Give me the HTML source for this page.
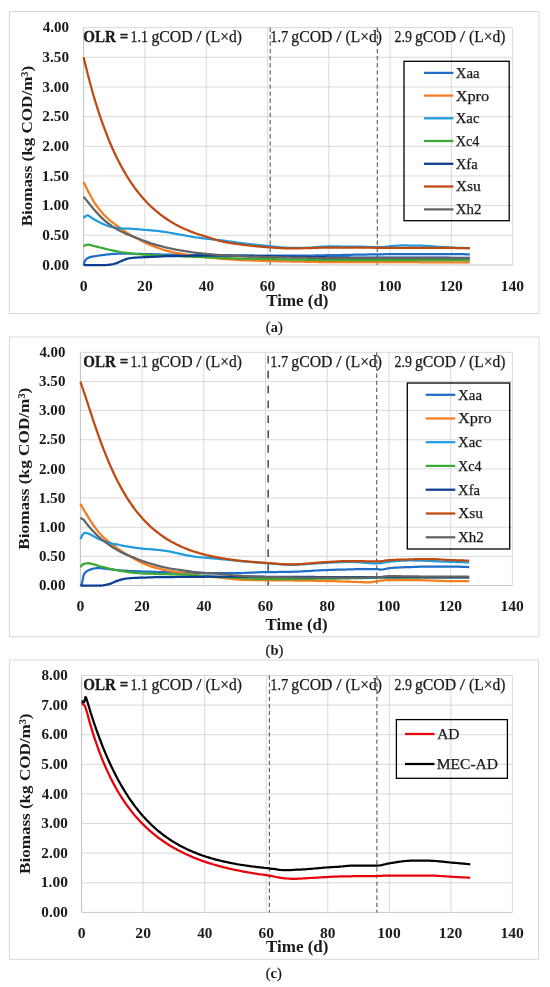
<!DOCTYPE html>
<html><head><meta charset="utf-8"><title>Biomass</title>
<style>
html,body{margin:0;padding:0;background:#fff;}
svg{display:block;font-family:"Liberation Serif", "DejaVu Serif", serif;fill:#1a1a1a;}
svg text{fill:#1a1a1a;stroke:#1a1a1a;stroke-width:0.25px;}
svg .b{font-weight:bold;stroke-width:0;}
</style></head>
<body>
<svg width="550" height="987" viewBox="0 0 550 987">
<rect width="550" height="987" fill="#fff"/>
<g>
<rect x="9.5" y="11.5" width="529.5" height="302.0" fill="#fff" stroke="#d9d9d9" stroke-width="1"/>
<line x1="83.6" y1="27.60" x2="512.7" y2="27.60" stroke="#d9d9d9" stroke-width="1"/>
<line x1="83.6" y1="57.28" x2="512.7" y2="57.28" stroke="#d9d9d9" stroke-width="1"/>
<line x1="83.6" y1="86.95" x2="512.7" y2="86.95" stroke="#d9d9d9" stroke-width="1"/>
<line x1="83.6" y1="116.62" x2="512.7" y2="116.62" stroke="#d9d9d9" stroke-width="1"/>
<line x1="83.6" y1="146.30" x2="512.7" y2="146.30" stroke="#d9d9d9" stroke-width="1"/>
<line x1="83.6" y1="175.97" x2="512.7" y2="175.97" stroke="#d9d9d9" stroke-width="1"/>
<line x1="83.6" y1="205.65" x2="512.7" y2="205.65" stroke="#d9d9d9" stroke-width="1"/>
<line x1="83.6" y1="235.32" x2="512.7" y2="235.32" stroke="#d9d9d9" stroke-width="1"/>
<line x1="83.6" y1="265.00" x2="512.7" y2="265.00" stroke="#c6c6c6" stroke-width="1"/>
<line x1="83.60" y1="27.6" x2="83.60" y2="265.0" stroke="#bfbfbf" stroke-width="1"/>
<line x1="144.90" y1="27.6" x2="144.90" y2="265.0" stroke="#d9d9d9" stroke-width="1"/>
<line x1="206.20" y1="27.6" x2="206.20" y2="265.0" stroke="#d9d9d9" stroke-width="1"/>
<line x1="267.50" y1="27.6" x2="267.50" y2="265.0" stroke="#d9d9d9" stroke-width="1"/>
<line x1="328.80" y1="27.6" x2="328.80" y2="265.0" stroke="#d9d9d9" stroke-width="1"/>
<line x1="390.10" y1="27.6" x2="390.10" y2="265.0" stroke="#d9d9d9" stroke-width="1"/>
<line x1="451.40" y1="27.6" x2="451.40" y2="265.0" stroke="#d9d9d9" stroke-width="1"/>
<line x1="512.70" y1="27.6" x2="512.70" y2="265.0" stroke="#d9d9d9" stroke-width="1"/>
<text x="42.77" y="32.30" font-size="14.4" class="b" textLength="26.33" lengthAdjust="spacingAndGlyphs">4.00</text>
<text x="42.39" y="61.98" font-size="14.4" class="b" textLength="26.72" lengthAdjust="spacingAndGlyphs">3.50</text>
<text x="42.39" y="91.65" font-size="14.4" class="b" textLength="26.72" lengthAdjust="spacingAndGlyphs">3.00</text>
<text x="42.39" y="121.33" font-size="14.4" class="b" textLength="26.72" lengthAdjust="spacingAndGlyphs">2.50</text>
<text x="42.39" y="151.00" font-size="14.4" class="b" textLength="26.72" lengthAdjust="spacingAndGlyphs">2.00</text>
<text x="41.75" y="180.67" font-size="14.4" class="b" textLength="27.38" lengthAdjust="spacingAndGlyphs">1.50</text>
<text x="41.75" y="210.35" font-size="14.4" class="b" textLength="27.38" lengthAdjust="spacingAndGlyphs">1.00</text>
<text x="42.39" y="240.02" font-size="14.4" class="b" textLength="26.72" lengthAdjust="spacingAndGlyphs">0.50</text>
<text x="42.39" y="269.70" font-size="14.4" class="b" textLength="26.72" lengthAdjust="spacingAndGlyphs">0.00</text>
<text x="79.67" y="291.20" font-size="14.4" class="b" textLength="7.86" lengthAdjust="spacingAndGlyphs">0</text>
<text x="137.13" y="291.20" font-size="14.4" class="b" textLength="15.54" lengthAdjust="spacingAndGlyphs">20</text>
<text x="198.82" y="291.20" font-size="14.4" class="b" textLength="15.13" lengthAdjust="spacingAndGlyphs">40</text>
<text x="259.81" y="291.20" font-size="14.4" class="b" textLength="15.46" lengthAdjust="spacingAndGlyphs">60</text>
<text x="321.11" y="291.20" font-size="14.4" class="b" textLength="15.46" lengthAdjust="spacingAndGlyphs">80</text>
<text x="378.10" y="291.20" font-size="14.4" class="b" textLength="23.37" lengthAdjust="spacingAndGlyphs">100</text>
<text x="439.40" y="291.20" font-size="14.4" class="b" textLength="23.37" lengthAdjust="spacingAndGlyphs">120</text>
<text x="500.70" y="291.20" font-size="14.4" class="b" textLength="23.37" lengthAdjust="spacingAndGlyphs">140</text>
<text x="266.35" y="306.20" font-size="16.5" class="b" textLength="62.15" lengthAdjust="spacingAndGlyphs">Time (d)</text>
<text x="-80.01" y="0.00" font-size="15.5" class="b" textLength="160.46" lengthAdjust="spacingAndGlyphs" transform="translate(31.5,146.30) rotate(-90)">Biomass (kg COD/m³)</text>
<line x1="270.20" y1="27.6" x2="270.20" y2="265.0" stroke="#5f5f5f" stroke-width="1.15" stroke-dasharray="4.3 2.8"/>
<line x1="377.30" y1="27.6" x2="377.30" y2="265.0" stroke="#5f5f5f" stroke-width="1.15" stroke-dasharray="4.3 2.8"/>
<text x="83.35" y="42.20" font-size="16" class="b" textLength="44.91" lengthAdjust="spacingAndGlyphs" style="stroke-width:0.3px">OLR =</text>
<text x="130.44" y="42.20" font-size="16" textLength="17.50" lengthAdjust="spacingAndGlyphs">1.1</text>
<text x="151.39" y="42.20" font-size="16" textLength="41.16" lengthAdjust="spacingAndGlyphs">gCOD</text>
<text x="196.30" y="42.20" font-size="16" textLength="5.35" lengthAdjust="spacingAndGlyphs">/</text>
<text x="205.60" y="42.20" font-size="16" textLength="36.33" lengthAdjust="spacingAndGlyphs">(L×d)</text>
<text x="270.31" y="42.20" font-size="16" textLength="17.92" lengthAdjust="spacingAndGlyphs">1.7</text>
<text x="291.29" y="42.20" font-size="16" textLength="41.16" lengthAdjust="spacingAndGlyphs">gCOD</text>
<text x="336.20" y="42.20" font-size="16" textLength="5.35" lengthAdjust="spacingAndGlyphs">/</text>
<text x="345.50" y="42.20" font-size="16" textLength="36.33" lengthAdjust="spacingAndGlyphs">(L×d)</text>
<text x="394.57" y="42.20" font-size="16" textLength="17.38" lengthAdjust="spacingAndGlyphs">2.9</text>
<text x="414.89" y="42.20" font-size="16" textLength="41.16" lengthAdjust="spacingAndGlyphs">gCOD</text>
<text x="459.80" y="42.20" font-size="16" textLength="5.35" lengthAdjust="spacingAndGlyphs">/</text>
<text x="469.10" y="42.20" font-size="16" textLength="36.33" lengthAdjust="spacingAndGlyphs">(L×d)</text>
<path d="M83.6,265.0 L84.5,262.0 L85.1,260.8 L86.2,259.1 L86.6,258.8 L88.1,257.9 L88.1,257.9 L89.6,257.4 L91.1,256.9 L92.5,256.6 L94.0,256.3 L95.5,256.0 L95.7,256.0 L97.0,255.8 L98.5,255.5 L100.0,255.4 L101.5,255.2 L102.1,255.1 L103.0,255.0 L104.5,254.8 L106.0,254.6 L107.5,254.4 L108.4,254.3 L108.9,254.3 L110.4,254.1 L111.9,254.0 L113.4,253.9 L114.9,253.8 L114.9,253.8 L116.4,253.7 L117.9,253.7 L119.4,253.7 L120.9,253.7 L121.3,253.7 L122.4,253.7 L123.9,253.7 L125.4,253.7 L126.8,253.7 L128.3,253.7 L129.8,253.7 L131.3,253.7 L132.6,253.7 L132.8,253.7 L134.3,253.7 L135.8,253.8 L137.3,253.8 L138.8,253.8 L140.3,253.9 L141.8,253.9 L143.2,254.0 L144.7,254.0 L144.9,254.0 L146.2,254.1 L147.7,254.1 L149.2,254.1 L150.7,254.2 L152.2,254.2 L153.7,254.3 L155.2,254.3 L156.7,254.3 L158.2,254.4 L159.6,254.4 L161.1,254.5 L162.6,254.5 L164.1,254.5 L165.6,254.6 L167.1,254.6 L168.6,254.6 L170.1,254.7 L171.6,254.7 L173.1,254.7 L174.6,254.8 L175.6,254.8 L176.0,254.8 L177.5,254.8 L179.0,254.9 L180.5,254.9 L182.0,254.9 L183.5,254.9 L185.0,255.0 L186.5,255.0 L188.0,255.0 L189.5,255.0 L191.0,255.0 L192.4,255.1 L193.9,255.1 L195.4,255.1 L196.9,255.1 L198.4,255.1 L199.9,255.2 L201.4,255.2 L202.9,255.2 L204.4,255.2 L205.9,255.2 L206.2,255.2 L207.4,255.2 L208.9,255.2 L210.3,255.2 L211.8,255.2 L213.3,255.3 L214.8,255.3 L216.3,255.3 L217.8,255.3 L219.3,255.3 L220.8,255.3 L222.3,255.3 L223.8,255.3 L225.3,255.3 L226.7,255.3 L228.2,255.3 L229.7,255.3 L231.2,255.4 L232.7,255.4 L234.2,255.4 L235.7,255.4 L237.2,255.4 L238.7,255.4 L240.2,255.4 L241.7,255.4 L243.1,255.4 L244.6,255.4 L246.1,255.4 L247.6,255.4 L249.1,255.4 L250.6,255.4 L252.1,255.4 L253.6,255.4 L255.1,255.5 L256.6,255.5 L258.1,255.5 L259.5,255.5 L261.0,255.5 L262.5,255.5 L264.0,255.5 L265.5,255.5 L267.0,255.5 L267.5,255.5 L268.5,255.5 L270.0,255.5 L271.5,255.5 L273.0,255.5 L274.5,255.5 L275.9,255.5 L277.4,255.6 L278.9,255.6 L280.4,255.6 L281.9,255.6 L283.4,255.6 L284.9,255.6 L286.4,255.6 L287.9,255.6 L289.4,255.6 L290.9,255.6 L292.4,255.6 L293.8,255.6 L295.3,255.6 L296.8,255.6 L298.1,255.6 L298.3,255.6 L299.8,255.6 L301.3,255.6 L302.8,255.6 L304.3,255.6 L305.8,255.6 L307.3,255.6 L308.8,255.5 L310.2,255.5 L311.7,255.5 L313.2,255.5 L314.7,255.5 L316.2,255.4 L317.7,255.4 L319.2,255.4 L320.7,255.3 L322.2,255.3 L323.7,255.3 L325.2,255.3 L326.6,255.2 L328.1,255.2 L328.8,255.2 L329.6,255.2 L331.1,255.2 L332.6,255.1 L334.1,255.1 L335.6,255.1 L337.1,255.1 L338.6,255.0 L340.1,255.0 L341.6,255.0 L343.0,254.9 L344.5,254.9 L346.0,254.9 L347.5,254.9 L349.0,254.8 L350.5,254.8 L352.0,254.8 L353.5,254.7 L355.0,254.7 L356.5,254.7 L358.0,254.6 L359.5,254.6 L360.9,254.6 L362.4,254.5 L363.9,254.5 L365.4,254.5 L366.9,254.5 L368.4,254.4 L369.9,254.4 L371.4,254.4 L372.9,254.4 L374.4,254.4 L375.9,254.3 L377.3,254.3 L377.8,254.3 L378.8,254.3 L380.3,254.3 L381.8,254.3 L383.3,254.3 L384.8,254.2 L386.3,254.2 L387.8,254.2 L389.3,254.2 L390.8,254.2 L392.3,254.2 L393.7,254.2 L395.2,254.1 L396.7,254.1 L398.2,254.1 L399.7,254.1 L401.2,254.1 L402.7,254.1 L404.2,254.1 L405.7,254.1 L407.2,254.1 L408.7,254.1 L410.1,254.0 L411.6,254.0 L413.1,254.0 L414.6,254.0 L416.1,254.0 L417.6,254.0 L419.1,254.0 L420.6,254.0 L420.8,254.0 L422.1,254.0 L423.6,254.0 L425.1,254.0 L426.5,254.0 L428.0,254.0 L429.5,254.0 L431.0,254.0 L432.5,254.0 L434.0,254.0 L435.5,254.0 L437.0,254.0 L438.5,254.1 L440.0,254.1 L441.5,254.1 L443.0,254.1 L444.4,254.1 L445.9,254.1 L447.4,254.1 L448.9,254.1 L450.4,254.1 L451.9,254.1 L453.4,254.1 L454.9,254.2 L456.4,254.2 L457.9,254.2 L459.4,254.2 L460.8,254.2 L462.3,254.2 L463.8,254.2 L465.3,254.3 L466.8,254.3 L468.3,254.3 L469.8,254.3" fill="none" stroke="#1f6fc9" stroke-width="2.25" stroke-linejoin="round" stroke-linecap="butt"/>
<path d="M83.6,181.9 L85.1,185.1 L86.6,188.2 L88.1,191.2 L89.4,193.6 L89.6,194.0 L91.1,196.7 L92.5,199.3 L94.0,201.8 L95.5,204.1 L95.7,204.4 L97.0,206.3 L98.5,208.3 L100.0,210.2 L101.5,212.0 L102.1,212.7 L103.0,213.7 L104.5,215.3 L106.0,216.8 L107.5,218.2 L108.4,219.1 L108.9,219.5 L110.4,220.8 L111.9,221.9 L113.4,223.1 L114.9,224.2 L114.9,224.2 L116.4,225.3 L117.9,226.4 L119.4,227.5 L120.9,228.6 L121.3,228.9 L122.4,229.6 L123.9,230.7 L125.4,231.7 L126.8,232.7 L127.4,233.1 L128.3,233.6 L129.8,234.6 L131.3,235.4 L132.8,236.3 L133.9,236.9 L134.3,237.1 L135.8,237.9 L137.3,238.6 L138.8,239.3 L140.3,240.1 L140.3,240.1 L141.8,240.9 L143.2,241.7 L144.7,242.5 L144.9,242.6 L146.2,243.2 L147.7,243.9 L149.2,244.5 L150.7,245.1 L152.2,245.7 L152.9,246.0 L153.7,246.3 L155.2,246.9 L156.7,247.4 L158.2,248.0 L159.6,248.5 L160.2,248.7 L161.1,249.0 L162.6,249.5 L164.1,250.0 L165.6,250.4 L167.1,250.9 L167.6,251.0 L168.6,251.2 L170.1,251.6 L171.6,251.9 L173.1,252.3 L174.6,252.6 L176.0,252.9 L177.5,253.2 L178.6,253.4 L179.0,253.4 L180.5,253.7 L182.0,254.0 L183.5,254.2 L185.0,254.5 L186.5,254.7 L188.0,254.9 L189.3,255.1 L189.5,255.2 L191.0,255.4 L192.4,255.6 L193.9,255.8 L195.4,256.0 L196.9,256.2 L198.4,256.3 L199.9,256.5 L200.4,256.6 L201.4,256.7 L202.9,256.9 L204.4,257.0 L205.9,257.2 L206.2,257.2 L207.4,257.3 L208.9,257.5 L210.3,257.7 L211.8,257.8 L213.3,258.0 L214.8,258.1 L216.3,258.3 L217.8,258.4 L219.3,258.6 L220.8,258.7 L221.5,258.8 L222.3,258.8 L223.8,258.9 L225.3,259.1 L226.7,259.2 L228.2,259.3 L229.7,259.4 L231.2,259.5 L232.7,259.6 L234.2,259.6 L235.7,259.7 L237.2,259.8 L238.7,259.9 L239.9,260.0 L240.2,260.0 L241.7,260.0 L243.1,260.1 L244.6,260.2 L246.1,260.2 L247.6,260.3 L249.1,260.4 L250.6,260.4 L252.1,260.5 L253.6,260.6 L255.1,260.6 L256.6,260.7 L258.1,260.7 L259.5,260.8 L261.0,260.8 L262.5,260.9 L264.0,260.9 L265.5,261.0 L267.0,261.0 L267.5,261.0 L268.5,261.0 L270.0,261.1 L271.5,261.1 L273.0,261.2 L274.5,261.2 L275.9,261.2 L277.4,261.2 L278.9,261.3 L280.4,261.3 L281.9,261.3 L283.4,261.3 L284.9,261.4 L286.4,261.4 L287.9,261.4 L289.0,261.4 L289.4,261.4 L290.9,261.5 L292.4,261.5 L293.8,261.5 L295.3,261.6 L296.8,261.6 L298.3,261.6 L299.8,261.6 L301.3,261.7 L302.8,261.7 L304.3,261.7 L305.8,261.8 L307.3,261.8 L308.8,261.8 L310.2,261.8 L311.7,261.9 L313.2,261.9 L314.7,261.9 L316.2,261.9 L317.7,262.0 L319.2,262.0 L320.7,262.0 L322.2,262.0 L323.7,262.0 L325.2,262.0 L326.6,262.0 L328.1,262.0 L328.8,262.0 L329.6,262.0 L331.1,262.0 L332.6,262.0 L334.1,262.0 L335.6,262.0 L337.1,262.0 L338.6,262.0 L340.1,262.0 L341.6,262.0 L343.0,262.0 L344.5,262.0 L346.0,262.0 L347.5,262.0 L349.0,262.0 L350.5,262.0 L352.0,262.0 L353.5,262.0 L355.0,262.0 L356.5,262.0 L358.0,262.0 L359.5,262.0 L360.9,262.0 L362.4,262.0 L363.9,262.0 L365.4,262.0 L366.9,262.0 L368.4,262.0 L369.9,262.0 L371.4,262.0 L372.9,262.0 L374.4,262.0 L375.9,262.0 L377.3,262.0 L378.8,262.0 L380.3,262.0 L381.8,262.0 L383.3,262.0 L384.8,262.0 L386.3,262.0 L387.8,262.0 L389.3,262.0 L390.1,262.0 L390.8,262.0 L392.3,262.0 L393.7,262.0 L395.2,262.0 L396.7,262.0 L398.2,262.1 L399.7,262.1 L401.2,262.1 L402.7,262.1 L404.2,262.1 L405.7,262.1 L407.2,262.1 L408.7,262.1 L410.1,262.2 L411.6,262.2 L413.1,262.2 L414.6,262.2 L416.1,262.2 L417.6,262.2 L419.1,262.2 L420.6,262.3 L422.1,262.3 L423.6,262.3 L425.1,262.3 L426.5,262.3 L428.0,262.3 L429.5,262.3 L431.0,262.3 L432.5,262.3 L434.0,262.3 L435.5,262.3 L436.1,262.3 L437.0,262.3 L438.5,262.3 L440.0,262.3 L441.5,262.3 L443.0,262.3 L444.4,262.3 L445.9,262.3 L447.4,262.3 L448.9,262.3 L450.4,262.3 L451.9,262.3 L453.4,262.3 L454.9,262.3 L456.4,262.3 L457.9,262.3 L459.4,262.3 L460.8,262.3 L462.3,262.3 L463.8,262.3 L465.3,262.3 L466.8,262.3 L468.3,262.3 L469.8,262.3" fill="none" stroke="#f57c1f" stroke-width="2.25" stroke-linejoin="round" stroke-linecap="butt"/>
<path d="M83.6,218.1 L85.1,216.6 L85.4,216.3 L86.6,215.5 L87.5,215.3 L88.1,215.4 L89.6,216.4 L90.6,217.2 L91.1,217.4 L92.5,218.4 L94.0,219.3 L95.5,220.2 L95.7,220.3 L97.0,221.0 L98.5,221.8 L100.0,222.5 L101.5,223.2 L102.1,223.5 L103.0,223.9 L104.5,224.6 L106.0,225.2 L107.5,225.8 L108.4,226.1 L108.9,226.2 L110.4,226.6 L111.9,227.0 L113.4,227.4 L114.9,227.6 L114.9,227.6 L116.4,227.8 L117.9,228.0 L119.4,228.2 L120.9,228.3 L121.3,228.3 L122.4,228.4 L123.9,228.5 L125.4,228.5 L126.8,228.6 L127.4,228.6 L128.3,228.7 L129.8,228.7 L131.3,228.8 L132.8,228.9 L133.9,229.0 L134.3,229.0 L135.8,229.1 L137.3,229.2 L138.8,229.3 L140.3,229.5 L141.8,229.6 L143.2,229.7 L144.7,229.9 L144.9,229.9 L146.2,230.0 L147.7,230.1 L149.2,230.2 L150.7,230.3 L152.2,230.5 L152.9,230.5 L153.7,230.6 L155.2,230.7 L156.7,230.9 L158.2,231.0 L159.6,231.2 L160.2,231.3 L161.1,231.4 L162.6,231.6 L164.1,231.8 L165.6,232.0 L167.1,232.3 L167.6,232.4 L168.6,232.5 L170.1,232.8 L171.6,233.0 L173.1,233.3 L174.6,233.6 L176.0,233.8 L177.5,234.1 L178.6,234.3 L179.0,234.4 L180.5,234.7 L182.0,234.9 L183.5,235.2 L185.0,235.5 L186.5,235.8 L188.0,236.0 L189.3,236.3 L189.5,236.3 L191.0,236.5 L192.4,236.8 L193.9,237.0 L195.4,237.3 L196.9,237.5 L198.4,237.7 L199.9,237.9 L200.4,238.0 L201.4,238.1 L202.9,238.3 L204.4,238.5 L205.9,238.6 L206.2,238.6 L207.4,238.8 L208.9,238.9 L210.3,239.1 L211.8,239.3 L213.3,239.4 L214.8,239.6 L216.3,239.8 L217.8,239.9 L219.3,240.1 L220.0,240.2 L220.8,240.3 L222.3,240.5 L223.8,240.7 L225.3,240.9 L226.7,241.1 L228.2,241.3 L229.7,241.5 L231.2,241.7 L232.7,242.0 L234.2,242.2 L235.7,242.4 L237.2,242.6 L238.7,242.8 L239.9,242.9 L240.2,243.0 L241.7,243.1 L243.1,243.3 L244.6,243.5 L246.1,243.7 L247.6,243.8 L249.1,244.0 L250.6,244.2 L252.1,244.3 L253.6,244.5 L255.1,244.6 L256.6,244.8 L258.1,245.0 L259.5,245.1 L261.0,245.3 L262.5,245.4 L264.0,245.6 L265.5,245.7 L267.0,245.8 L267.5,245.9 L268.5,246.0 L270.0,246.1 L271.5,246.3 L273.0,246.5 L274.5,246.6 L275.9,246.8 L277.4,247.0 L278.9,247.1 L280.4,247.3 L281.9,247.4 L283.4,247.5 L284.9,247.6 L286.4,247.7 L287.9,247.8 L289.4,247.8 L289.9,247.8 L290.9,247.8 L292.4,247.8 L293.8,247.8 L295.3,247.8 L296.8,247.8 L298.3,247.8 L299.8,247.8 L301.3,247.8 L302.8,247.8 L304.3,247.8 L305.8,247.8 L307.3,247.7 L308.8,247.7 L310.2,247.6 L311.7,247.5 L313.2,247.4 L314.7,247.3 L316.2,247.1 L317.7,247.0 L319.2,246.9 L320.7,246.8 L322.2,246.7 L323.7,246.6 L325.2,246.5 L326.6,246.5 L328.1,246.4 L328.8,246.4 L329.6,246.4 L331.1,246.4 L332.6,246.4 L334.1,246.4 L335.6,246.4 L337.1,246.4 L338.6,246.4 L340.1,246.5 L341.6,246.5 L343.0,246.5 L344.5,246.5 L346.0,246.5 L347.5,246.5 L349.0,246.5 L350.5,246.5 L352.0,246.5 L353.5,246.5 L355.0,246.6 L356.5,246.6 L358.0,246.6 L359.5,246.6 L360.9,246.6 L362.4,246.7 L363.9,246.7 L365.4,246.8 L366.9,246.8 L368.4,246.9 L369.9,247.0 L371.4,247.0 L372.9,247.1 L374.4,247.1 L375.9,247.2 L377.3,247.2 L377.8,247.2 L378.8,247.2 L380.3,247.1 L381.8,247.1 L383.3,247.0 L384.8,246.8 L386.3,246.7 L387.8,246.6 L389.3,246.4 L390.8,246.2 L392.3,246.1 L393.7,245.9 L395.2,245.8 L396.7,245.7 L398.2,245.5 L399.7,245.5 L401.2,245.4 L402.4,245.4 L402.7,245.4 L404.2,245.4 L405.7,245.4 L407.2,245.4 L408.7,245.5 L410.1,245.5 L411.6,245.5 L413.1,245.5 L414.6,245.6 L416.1,245.6 L417.6,245.6 L419.1,245.7 L420.6,245.7 L420.8,245.7 L422.1,245.7 L423.6,245.8 L425.1,245.9 L426.5,245.9 L428.0,246.0 L429.5,246.1 L431.0,246.2 L432.5,246.3 L434.0,246.4 L435.5,246.5 L437.0,246.7 L438.5,246.8 L440.0,246.9 L441.5,247.0 L443.0,247.1 L444.4,247.1 L445.3,247.2 L445.9,247.2 L447.4,247.3 L448.9,247.4 L450.4,247.5 L451.9,247.6 L453.4,247.6 L454.9,247.7 L456.4,247.8 L457.5,247.8 L457.9,247.8 L459.4,247.8 L460.8,247.9 L462.3,247.9 L463.8,247.9 L465.3,248.0 L466.8,248.0 L468.3,248.0 L469.8,248.0" fill="none" stroke="#1f9be0" stroke-width="2.25" stroke-linejoin="round" stroke-linecap="butt"/>
<path d="M83.6,246.4 L85.1,245.4 L85.7,245.1 L86.6,244.8 L88.1,244.5 L88.1,244.5 L89.6,244.8 L91.1,245.2 L91.3,245.2 L92.5,245.6 L94.0,246.0 L95.5,246.4 L95.7,246.4 L97.0,246.7 L98.5,247.1 L100.0,247.5 L101.5,247.8 L102.1,248.0 L103.0,248.2 L104.5,248.6 L106.0,249.0 L107.5,249.4 L108.4,249.6 L108.9,249.7 L110.4,250.0 L111.9,250.3 L113.4,250.6 L114.9,250.9 L114.9,250.9 L116.4,251.2 L117.9,251.5 L119.4,251.8 L120.9,252.0 L121.3,252.1 L122.4,252.3 L123.9,252.5 L125.4,252.7 L126.8,252.9 L127.4,253.0 L128.3,253.1 L129.8,253.3 L131.3,253.5 L132.8,253.7 L133.9,253.8 L134.3,253.8 L135.8,254.0 L137.3,254.1 L138.8,254.2 L140.3,254.3 L141.8,254.5 L143.2,254.6 L144.7,254.7 L144.9,254.7 L146.2,254.8 L147.7,254.8 L149.2,254.9 L150.7,255.0 L152.2,255.1 L152.9,255.1 L153.7,255.1 L155.2,255.2 L156.7,255.3 L158.2,255.3 L159.6,255.4 L161.1,255.4 L162.6,255.5 L164.1,255.6 L165.4,255.6 L165.6,255.6 L167.1,255.7 L168.6,255.8 L170.1,255.8 L171.6,255.9 L173.1,256.0 L174.6,256.0 L176.0,256.1 L177.5,256.2 L179.0,256.2 L180.5,256.3 L182.0,256.4 L183.5,256.4 L185.0,256.5 L186.5,256.5 L187.2,256.6 L188.0,256.6 L189.5,256.7 L191.0,256.7 L192.4,256.8 L193.9,256.8 L195.4,256.9 L196.9,256.9 L198.4,257.0 L199.9,257.1 L201.4,257.1 L202.9,257.2 L204.4,257.2 L205.9,257.3 L206.2,257.3 L207.4,257.3 L208.9,257.4 L210.3,257.4 L211.8,257.5 L213.3,257.6 L214.8,257.6 L216.3,257.7 L217.8,257.8 L219.3,257.8 L220.8,257.9 L222.3,258.0 L223.8,258.0 L225.3,258.1 L226.7,258.1 L228.2,258.2 L229.7,258.2 L231.2,258.3 L232.7,258.4 L234.2,258.4 L235.7,258.4 L236.8,258.5 L237.2,258.5 L238.7,258.5 L240.2,258.6 L241.7,258.6 L243.1,258.6 L244.6,258.7 L246.1,258.7 L247.6,258.7 L249.1,258.7 L250.6,258.8 L252.1,258.8 L253.6,258.8 L255.1,258.8 L256.6,258.9 L258.1,258.9 L259.5,258.9 L261.0,258.9 L262.5,259.0 L264.0,259.0 L265.5,259.0 L267.0,259.1 L267.5,259.1 L268.5,259.1 L270.0,259.1 L271.5,259.1 L273.0,259.2 L274.5,259.2 L275.9,259.2 L277.4,259.3 L278.9,259.3 L280.4,259.3 L281.9,259.4 L283.4,259.4 L284.9,259.4 L286.4,259.5 L287.9,259.5 L289.4,259.5 L290.9,259.5 L292.4,259.6 L293.8,259.6 L295.3,259.6 L296.8,259.6 L298.1,259.7 L298.3,259.7 L299.8,259.7 L301.3,259.7 L302.8,259.7 L304.3,259.8 L305.8,259.8 L307.3,259.8 L308.8,259.8 L310.2,259.8 L311.7,259.9 L313.2,259.9 L314.7,259.9 L316.2,259.9 L317.7,259.9 L319.2,260.0 L320.7,260.0 L322.2,260.0 L323.7,260.0 L325.2,260.0 L326.6,260.0 L328.1,260.0 L328.8,260.0 L329.6,260.0 L331.1,260.0 L332.6,260.0 L334.1,260.0 L335.6,260.0 L337.1,260.0 L338.6,260.0 L340.1,260.0 L341.6,260.0 L343.0,260.0 L344.5,260.0 L346.0,260.0 L347.5,260.0 L349.0,260.0 L350.5,260.0 L352.0,260.0 L353.5,260.0 L355.0,260.0 L356.5,260.0 L358.0,260.0 L359.5,260.0 L360.9,260.0 L362.4,260.0 L363.9,260.0 L365.4,260.0 L366.9,260.0 L368.4,260.0 L369.9,260.0 L371.4,260.0 L372.9,260.0 L374.4,260.0 L375.9,260.0 L377.3,260.0 L378.8,260.0 L380.3,260.0 L381.8,260.0 L383.3,260.0 L384.8,260.0 L386.3,260.0 L387.8,260.0 L389.3,260.0 L390.1,260.0 L390.8,260.0 L392.3,260.0 L393.7,260.0 L395.2,260.0 L396.7,260.0 L398.2,260.0 L399.7,260.0 L401.2,260.0 L402.7,260.0 L404.2,260.0 L405.7,260.0 L407.2,260.0 L408.7,260.0 L410.1,260.0 L411.6,260.0 L413.1,260.0 L414.6,260.0 L416.1,260.0 L417.6,260.0 L419.1,260.0 L420.6,260.0 L422.1,260.0 L423.6,260.0 L425.1,260.0 L426.5,260.0 L428.0,260.0 L429.5,260.0 L431.0,260.0 L432.5,260.0 L434.0,260.0 L435.5,260.0 L437.0,260.0 L438.5,260.0 L440.0,260.0 L441.5,260.0 L443.0,260.0 L444.4,260.0 L445.9,260.0 L447.4,260.0 L448.9,260.0 L450.4,260.0 L451.9,260.0 L453.4,260.0 L454.9,260.0 L456.4,260.0 L457.9,260.0 L459.4,260.0 L460.8,260.0 L462.3,260.0 L463.8,260.0 L465.3,260.0 L466.8,260.0 L468.3,260.0 L469.8,260.0" fill="none" stroke="#3aaa35" stroke-width="2.25" stroke-linejoin="round" stroke-linecap="butt"/>
<path d="M83.6,265.0 L85.1,265.0 L86.6,265.0 L88.1,265.0 L89.6,265.0 L91.1,265.0 L92.5,265.0 L94.0,265.0 L95.5,265.0 L97.0,265.0 L98.5,265.0 L100.0,265.0 L101.5,265.0 L103.0,265.0 L104.5,265.0 L106.0,265.0 L106.0,265.0 L107.5,264.9 L108.9,264.8 L110.4,264.5 L110.9,264.5 L111.9,264.3 L113.4,264.0 L114.9,263.6 L116.1,263.2 L116.4,263.1 L117.9,262.6 L119.4,261.9 L120.9,261.3 L121.3,261.1 L122.4,260.6 L123.9,260.0 L125.4,259.4 L126.2,259.1 L126.8,258.9 L128.3,258.5 L129.8,258.2 L130.2,258.1 L131.3,258.0 L132.8,257.8 L134.3,257.7 L135.8,257.6 L136.3,257.5 L137.3,257.5 L138.8,257.4 L140.3,257.3 L141.8,257.3 L143.2,257.2 L144.7,257.2 L144.9,257.2 L146.2,257.1 L147.7,257.0 L149.2,257.0 L150.7,256.9 L152.2,256.8 L152.9,256.8 L153.7,256.8 L155.2,256.7 L156.7,256.6 L158.2,256.5 L159.6,256.5 L161.1,256.4 L162.6,256.3 L164.1,256.3 L165.4,256.2 L165.6,256.2 L167.1,256.2 L168.6,256.1 L170.1,256.1 L171.6,256.0 L173.1,256.0 L174.6,256.0 L176.0,255.9 L177.5,255.9 L179.0,255.9 L180.5,255.9 L182.0,255.8 L183.5,255.8 L184.7,255.8 L185.0,255.8 L186.5,255.8 L188.0,255.8 L189.5,255.7 L191.0,255.7 L192.4,255.7 L193.9,255.7 L195.4,255.7 L196.9,255.7 L198.4,255.7 L199.9,255.6 L201.4,255.6 L202.9,255.6 L204.4,255.6 L205.9,255.6 L206.2,255.6 L207.4,255.6 L208.9,255.6 L210.3,255.6 L211.8,255.6 L213.3,255.6 L214.8,255.6 L216.3,255.6 L217.8,255.7 L219.3,255.7 L220.8,255.7 L222.3,255.7 L223.8,255.7 L225.3,255.7 L226.7,255.7 L228.2,255.7 L229.7,255.7 L231.2,255.8 L232.7,255.8 L234.2,255.8 L235.7,255.8 L237.2,255.8 L238.7,255.8 L240.2,255.9 L241.7,255.9 L243.1,255.9 L244.6,255.9 L246.1,255.9 L247.6,256.0 L249.1,256.0 L250.6,256.0 L252.1,256.0 L253.6,256.0 L255.1,256.1 L256.6,256.1 L258.1,256.1 L259.5,256.1 L261.0,256.1 L262.5,256.2 L264.0,256.2 L265.5,256.2 L267.0,256.2 L267.5,256.2 L268.5,256.2 L270.0,256.2 L271.5,256.3 L273.0,256.3 L274.5,256.3 L275.9,256.3 L277.4,256.4 L278.9,256.4 L280.4,256.4 L281.9,256.4 L283.4,256.5 L284.9,256.5 L286.4,256.5 L287.9,256.6 L289.4,256.6 L290.9,256.6 L292.4,256.7 L293.8,256.7 L295.3,256.7 L296.8,256.8 L298.3,256.8 L299.8,256.8 L301.3,256.8 L302.8,256.9 L304.3,256.9 L305.8,256.9 L307.3,257.0 L308.8,257.0 L310.2,257.0 L311.7,257.0 L313.2,257.1 L314.7,257.1 L316.2,257.1 L317.7,257.1 L319.2,257.2 L320.7,257.2 L322.2,257.2 L323.7,257.2 L325.2,257.2 L326.6,257.3 L328.1,257.3 L328.8,257.3 L329.6,257.3 L331.1,257.3 L332.6,257.3 L334.1,257.3 L335.6,257.3 L337.1,257.4 L338.6,257.4 L340.1,257.4 L341.6,257.4 L343.0,257.4 L344.5,257.4 L346.0,257.4 L347.5,257.4 L349.0,257.4 L350.5,257.5 L352.0,257.5 L353.5,257.5 L355.0,257.5 L356.5,257.5 L358.0,257.5 L359.5,257.5 L360.9,257.5 L362.4,257.5 L363.9,257.5 L365.4,257.5 L366.9,257.6 L368.4,257.6 L369.9,257.6 L371.4,257.6 L372.9,257.6 L374.4,257.6 L375.9,257.6 L377.3,257.6 L378.8,257.6 L380.3,257.6 L381.8,257.6 L383.3,257.6 L384.8,257.6 L386.3,257.6 L387.8,257.6 L389.3,257.6 L390.1,257.6 L390.8,257.6 L392.3,257.6 L393.7,257.6 L395.2,257.7 L396.7,257.7 L398.2,257.7 L399.7,257.7 L401.2,257.7 L402.7,257.7 L404.2,257.7 L405.7,257.7 L407.2,257.7 L408.7,257.7 L410.1,257.7 L411.6,257.7 L413.1,257.7 L414.6,257.7 L416.1,257.7 L417.6,257.7 L419.1,257.7 L420.6,257.7 L422.1,257.7 L423.6,257.7 L425.1,257.7 L426.5,257.7 L428.0,257.7 L429.5,257.7 L431.0,257.7 L432.5,257.7 L434.0,257.7 L435.5,257.7 L437.0,257.7 L438.5,257.7 L440.0,257.7 L441.5,257.7 L443.0,257.7 L444.4,257.7 L445.9,257.7 L447.4,257.7 L448.9,257.7 L450.4,257.8 L451.9,257.8 L453.4,257.8 L454.9,257.8 L456.4,257.8 L457.9,257.8 L459.4,257.8 L460.8,257.8 L462.3,257.8 L463.8,257.8 L465.3,257.8 L466.8,257.8 L468.3,257.8 L469.8,257.8" fill="none" stroke="#0b3d91" stroke-width="2.25" stroke-linejoin="round" stroke-linecap="butt"/>
<path d="M83.6,57.3 L85.1,63.5 L86.6,69.6 L88.1,75.5 L89.6,81.2 L89.7,81.8 L91.1,86.7 L92.5,92.0 L94.0,97.2 L95.5,102.1 L95.9,103.2 L97.0,106.9 L98.5,111.6 L100.0,116.1 L101.5,120.5 L102.0,121.9 L103.0,124.7 L104.5,128.7 L106.0,132.7 L107.5,136.5 L108.1,138.1 L108.9,140.2 L110.4,143.7 L111.9,147.2 L113.4,150.5 L114.2,152.3 L114.9,153.8 L116.4,156.9 L117.9,159.9 L119.4,162.8 L120.4,164.7 L120.9,165.6 L122.4,168.4 L123.9,171.0 L125.4,173.6 L126.5,175.5 L126.8,176.0 L128.3,178.4 L129.8,180.7 L131.3,183.0 L132.6,184.9 L132.8,185.1 L134.3,187.2 L135.8,189.3 L137.3,191.2 L138.8,193.1 L140.3,194.9 L141.8,196.7 L143.2,198.4 L144.7,200.1 L144.9,200.3 L146.2,201.7 L147.7,203.2 L149.2,204.7 L150.7,206.2 L151.0,206.5 L152.2,207.6 L153.7,208.9 L155.2,210.2 L156.7,211.5 L157.2,211.9 L158.2,212.7 L159.6,213.9 L161.1,215.1 L162.6,216.2 L163.3,216.7 L164.1,217.3 L165.6,218.3 L167.1,219.3 L168.6,220.3 L169.4,220.8 L170.1,221.2 L171.6,222.1 L173.1,223.0 L174.6,223.9 L175.6,224.4 L176.0,224.7 L177.5,225.5 L179.0,226.3 L180.5,227.0 L181.7,227.6 L182.0,227.7 L183.5,228.4 L185.0,229.1 L186.5,229.7 L187.8,230.3 L188.0,230.4 L189.5,231.0 L191.0,231.6 L192.4,232.1 L193.9,232.7 L195.4,233.2 L196.9,233.7 L198.4,234.2 L199.9,234.7 L200.1,234.8 L201.4,235.2 L202.9,235.6 L204.4,236.1 L205.9,236.5 L206.2,236.6 L207.4,237.0 L208.9,237.5 L210.3,238.0 L211.8,238.5 L213.3,239.0 L214.8,239.5 L216.3,240.0 L217.8,240.4 L219.3,240.8 L220.0,241.0 L220.8,241.1 L222.3,241.5 L223.8,241.8 L225.3,242.1 L226.7,242.4 L228.2,242.6 L229.7,242.9 L231.2,243.1 L232.7,243.4 L234.2,243.6 L235.7,243.8 L237.2,244.0 L238.7,244.2 L239.9,244.4 L240.2,244.4 L241.7,244.6 L243.1,244.8 L244.6,245.0 L246.1,245.2 L247.6,245.3 L249.1,245.5 L250.6,245.7 L252.1,245.8 L253.6,246.0 L255.1,246.1 L256.6,246.3 L258.1,246.4 L259.5,246.6 L261.0,246.7 L262.5,246.8 L264.0,246.9 L265.5,247.1 L267.0,247.2 L267.5,247.2 L268.5,247.3 L270.0,247.4 L271.5,247.5 L273.0,247.6 L274.5,247.7 L275.9,247.8 L277.4,247.9 L278.9,248.0 L280.4,248.1 L281.9,248.2 L283.4,248.2 L284.9,248.3 L286.4,248.3 L287.9,248.4 L289.4,248.4 L289.9,248.4 L290.9,248.4 L292.4,248.4 L293.8,248.4 L295.3,248.3 L296.8,248.3 L298.3,248.3 L299.8,248.3 L301.3,248.3 L302.8,248.2 L304.3,248.2 L305.8,248.2 L307.3,248.1 L308.8,248.1 L310.2,248.0 L311.7,248.0 L313.2,247.9 L314.7,247.9 L316.2,247.8 L317.7,247.8 L319.2,247.7 L320.7,247.6 L322.2,247.6 L323.7,247.6 L325.2,247.5 L326.6,247.5 L328.1,247.5 L328.8,247.5 L329.6,247.5 L331.1,247.5 L332.6,247.5 L334.1,247.5 L335.6,247.5 L337.1,247.5 L338.6,247.5 L340.1,247.5 L341.6,247.5 L343.0,247.5 L344.5,247.5 L346.0,247.5 L347.5,247.5 L349.0,247.6 L350.5,247.6 L352.0,247.6 L353.5,247.6 L355.0,247.6 L356.5,247.6 L358.0,247.6 L359.5,247.6 L360.9,247.6 L362.4,247.6 L363.9,247.6 L365.4,247.7 L366.9,247.7 L368.4,247.7 L369.9,247.7 L371.4,247.7 L372.9,247.7 L374.4,247.8 L375.9,247.8 L377.3,247.8 L377.8,247.8 L378.8,247.8 L380.3,247.8 L381.8,247.8 L383.3,247.8 L384.8,247.8 L386.3,247.8 L387.8,247.9 L389.3,247.9 L390.8,247.9 L392.3,247.9 L393.7,247.9 L395.2,247.9 L396.7,247.9 L398.2,247.9 L399.7,247.9 L401.2,247.9 L402.4,247.9 L402.7,247.9 L404.2,247.9 L405.7,247.9 L407.2,247.9 L408.7,247.9 L410.1,247.9 L411.6,247.9 L413.1,247.9 L414.6,247.9 L416.1,247.9 L417.6,247.9 L419.1,247.9 L420.6,247.9 L422.1,247.9 L423.6,247.9 L425.1,247.9 L426.5,247.9 L428.0,247.9 L429.5,247.9 L431.0,247.9 L432.5,247.9 L434.0,247.9 L435.5,247.9 L436.1,247.9 L437.0,247.9 L438.5,247.9 L440.0,247.9 L441.5,247.9 L443.0,247.9 L444.4,247.9 L445.9,247.9 L447.4,247.9 L448.9,247.9 L450.4,247.9 L451.9,247.9 L453.4,247.9 L454.9,248.0 L456.4,248.0 L457.9,248.0 L459.4,248.0 L460.8,248.0 L462.3,248.0 L463.8,248.0 L465.3,248.0 L466.8,248.0 L468.3,248.0 L469.8,248.0" fill="none" stroke="#c0490f" stroke-width="2.25" stroke-linejoin="round" stroke-linecap="butt"/>
<path d="M83.6,196.8 L85.1,198.6 L86.6,200.4 L88.1,202.3 L89.4,203.8 L89.6,204.1 L91.1,205.9 L92.5,207.7 L94.0,209.4 L95.5,211.2 L95.7,211.4 L97.0,212.8 L98.5,214.5 L100.0,216.1 L101.5,217.6 L102.1,218.2 L103.0,219.0 L104.5,220.3 L106.0,221.6 L107.5,222.8 L108.4,223.5 L108.9,223.9 L110.4,225.0 L111.9,226.1 L113.4,227.1 L114.9,228.0 L114.9,228.0 L116.4,228.9 L117.9,229.7 L119.4,230.4 L120.9,231.2 L121.3,231.4 L122.4,231.9 L123.9,232.7 L125.4,233.4 L126.8,234.1 L127.4,234.3 L128.3,234.7 L129.8,235.3 L131.3,235.9 L132.8,236.5 L133.9,236.9 L134.3,237.0 L135.8,237.6 L137.3,238.2 L138.8,238.8 L140.3,239.4 L140.3,239.4 L141.8,240.0 L143.2,240.5 L144.7,241.0 L144.9,241.1 L146.2,241.6 L147.7,242.1 L149.2,242.6 L150.7,243.2 L152.2,243.7 L152.9,243.9 L153.7,244.1 L155.2,244.6 L156.7,245.0 L158.2,245.4 L159.6,245.9 L160.2,246.0 L161.1,246.2 L162.6,246.6 L164.1,247.0 L165.6,247.3 L167.1,247.7 L167.6,247.8 L168.6,248.0 L170.1,248.3 L171.6,248.7 L173.1,249.0 L174.6,249.3 L176.0,249.6 L177.5,249.8 L178.6,250.0 L179.0,250.1 L180.5,250.4 L182.0,250.6 L183.5,250.9 L185.0,251.2 L186.5,251.4 L188.0,251.6 L189.3,251.8 L189.5,251.8 L191.0,252.1 L192.4,252.3 L193.9,252.5 L195.4,252.7 L196.9,252.8 L198.4,253.0 L199.9,253.2 L200.4,253.2 L201.4,253.4 L202.9,253.5 L204.4,253.7 L205.9,253.8 L206.2,253.8 L207.4,254.0 L208.9,254.1 L210.3,254.2 L211.8,254.4 L213.3,254.5 L214.8,254.6 L216.3,254.8 L217.8,254.9 L219.3,255.0 L220.0,255.0 L220.8,255.1 L222.3,255.2 L223.8,255.3 L225.3,255.4 L226.7,255.5 L228.2,255.5 L229.7,255.6 L231.2,255.7 L232.7,255.8 L234.2,255.9 L235.7,255.9 L236.8,256.0 L237.2,256.0 L238.7,256.1 L240.2,256.1 L241.7,256.2 L243.1,256.2 L244.6,256.3 L246.1,256.3 L247.6,256.4 L249.1,256.5 L250.6,256.5 L252.1,256.6 L253.6,256.6 L255.1,256.6 L256.6,256.7 L258.1,256.7 L259.5,256.8 L261.0,256.8 L262.5,256.9 L264.0,256.9 L265.5,256.9 L267.0,257.0 L267.5,257.0 L268.5,257.0 L270.0,257.0 L271.5,257.1 L273.0,257.1 L274.5,257.1 L275.9,257.2 L277.4,257.2 L278.9,257.2 L280.4,257.3 L281.9,257.3 L283.4,257.3 L284.9,257.4 L286.4,257.4 L287.9,257.4 L289.4,257.4 L290.9,257.5 L292.4,257.5 L293.8,257.5 L295.3,257.5 L296.8,257.6 L298.1,257.6 L298.3,257.6 L299.8,257.6 L301.3,257.6 L302.8,257.7 L304.3,257.7 L305.8,257.7 L307.3,257.8 L308.8,257.8 L310.2,257.8 L311.7,257.8 L313.2,257.9 L314.7,257.9 L316.2,257.9 L317.7,257.9 L319.2,258.0 L320.7,258.0 L322.2,258.0 L323.7,258.0 L325.2,258.0 L326.6,258.0 L328.1,258.1 L328.8,258.1 L329.6,258.1 L331.1,258.1 L332.6,258.1 L334.1,258.1 L335.6,258.1 L337.1,258.1 L338.6,258.1 L340.1,258.1 L341.6,258.1 L343.0,258.1 L344.5,258.1 L346.0,258.1 L347.5,258.1 L349.0,258.1 L350.5,258.1 L352.0,258.1 L353.5,258.1 L355.0,258.1 L356.5,258.1 L358.0,258.1 L359.5,258.1 L360.9,258.1 L362.4,258.1 L363.9,258.2 L365.4,258.2 L366.9,258.2 L368.4,258.2 L369.9,258.2 L371.4,258.2 L372.9,258.2 L374.4,258.2 L375.9,258.2 L377.3,258.2 L378.8,258.2 L380.3,258.2 L381.8,258.2 L383.3,258.2 L384.8,258.2 L386.3,258.2 L387.8,258.2 L389.3,258.2 L390.1,258.2 L390.8,258.2 L392.3,258.2 L393.7,258.2 L395.2,258.2 L396.7,258.2 L398.2,258.2 L399.7,258.2 L401.2,258.2 L402.7,258.2 L404.2,258.2 L405.7,258.2 L407.2,258.2 L408.7,258.2 L410.1,258.2 L411.6,258.2 L413.1,258.2 L414.6,258.2 L416.1,258.2 L417.6,258.2 L419.1,258.2 L420.6,258.2 L422.1,258.2 L423.6,258.2 L425.1,258.2 L426.5,258.2 L428.0,258.2 L429.5,258.2 L431.0,258.1 L432.5,258.1 L434.0,258.1 L435.5,258.1 L437.0,258.1 L438.5,258.1 L440.0,258.1 L441.5,258.1 L443.0,258.1 L444.4,258.1 L445.9,258.1 L447.4,258.1 L448.9,258.1 L450.4,258.1 L451.9,258.1 L453.4,258.1 L454.9,258.1 L456.4,258.1 L457.9,258.1 L459.4,258.1 L460.8,258.1 L462.3,258.1 L463.8,258.1 L465.3,258.1 L466.8,258.1 L468.3,258.1 L469.8,258.1" fill="none" stroke="#636363" stroke-width="2.25" stroke-linejoin="round" stroke-linecap="butt"/>
<rect x="404" y="61.3" width="105.19999999999999" height="159.39999999999998" fill="none" stroke="#000" stroke-width="1.3"/>
<line x1="424" y1="72.9" x2="453.4" y2="72.9" stroke="#1f6fc9" stroke-width="2.25"/>
<text x="455.70" y="77.80" font-size="15" textLength="23.92" lengthAdjust="spacingAndGlyphs">Xaa</text>
<line x1="424" y1="95.6" x2="453.4" y2="95.6" stroke="#f57c1f" stroke-width="2.25"/>
<text x="455.67" y="100.50" font-size="15" textLength="33.48" lengthAdjust="spacingAndGlyphs">Xpro</text>
<line x1="424" y1="118.3" x2="453.4" y2="118.3" stroke="#1f9be0" stroke-width="2.25"/>
<text x="455.71" y="123.20" font-size="15" textLength="23.73" lengthAdjust="spacingAndGlyphs">Xac</text>
<line x1="424" y1="141" x2="453.4" y2="141" stroke="#3aaa35" stroke-width="2.25"/>
<text x="455.72" y="145.90" font-size="15" textLength="23.51" lengthAdjust="spacingAndGlyphs">Xc4</text>
<line x1="424" y1="163.8" x2="453.4" y2="163.8" stroke="#0b3d91" stroke-width="2.25"/>
<text x="455.71" y="168.70" font-size="15" textLength="22.00" lengthAdjust="spacingAndGlyphs">Xfa</text>
<line x1="424" y1="186.5" x2="453.4" y2="186.5" stroke="#c0490f" stroke-width="2.25"/>
<text x="455.69" y="191.40" font-size="15" textLength="25.07" lengthAdjust="spacingAndGlyphs">Xsu</text>
<line x1="424" y1="209.4" x2="453.4" y2="209.4" stroke="#636363" stroke-width="2.25"/>
<text x="455.70" y="214.30" font-size="15" textLength="25.65" lengthAdjust="spacingAndGlyphs">Xh2</text>
<text x="274.3" y="332.4" text-anchor="middle" font-size="14.5">(<tspan class="b">a</tspan>)</text>
</g>
<g>
<rect x="9.5" y="337" width="529.5" height="299.70000000000005" fill="#fff" stroke="#d9d9d9" stroke-width="1"/>
<line x1="80.4" y1="352.30" x2="512.4" y2="352.30" stroke="#d9d9d9" stroke-width="1"/>
<line x1="80.4" y1="381.45" x2="512.4" y2="381.45" stroke="#d9d9d9" stroke-width="1"/>
<line x1="80.4" y1="410.60" x2="512.4" y2="410.60" stroke="#d9d9d9" stroke-width="1"/>
<line x1="80.4" y1="439.75" x2="512.4" y2="439.75" stroke="#d9d9d9" stroke-width="1"/>
<line x1="80.4" y1="468.90" x2="512.4" y2="468.90" stroke="#d9d9d9" stroke-width="1"/>
<line x1="80.4" y1="498.05" x2="512.4" y2="498.05" stroke="#d9d9d9" stroke-width="1"/>
<line x1="80.4" y1="527.20" x2="512.4" y2="527.20" stroke="#d9d9d9" stroke-width="1"/>
<line x1="80.4" y1="556.35" x2="512.4" y2="556.35" stroke="#d9d9d9" stroke-width="1"/>
<line x1="80.4" y1="585.50" x2="512.4" y2="585.50" stroke="#c6c6c6" stroke-width="1"/>
<line x1="80.40" y1="352.3" x2="80.40" y2="585.5" stroke="#bfbfbf" stroke-width="1"/>
<line x1="142.11" y1="352.3" x2="142.11" y2="585.5" stroke="#d9d9d9" stroke-width="1"/>
<line x1="203.83" y1="352.3" x2="203.83" y2="585.5" stroke="#d9d9d9" stroke-width="1"/>
<line x1="265.54" y1="352.3" x2="265.54" y2="585.5" stroke="#d9d9d9" stroke-width="1"/>
<line x1="327.26" y1="352.3" x2="327.26" y2="585.5" stroke="#d9d9d9" stroke-width="1"/>
<line x1="388.97" y1="352.3" x2="388.97" y2="585.5" stroke="#d9d9d9" stroke-width="1"/>
<line x1="450.69" y1="352.3" x2="450.69" y2="585.5" stroke="#d9d9d9" stroke-width="1"/>
<line x1="512.40" y1="352.3" x2="512.40" y2="585.5" stroke="#d9d9d9" stroke-width="1"/>
<text x="39.48" y="357.00" font-size="14.4" class="b" textLength="25.91" lengthAdjust="spacingAndGlyphs">4.00</text>
<text x="39.10" y="386.15" font-size="14.4" class="b" textLength="26.30" lengthAdjust="spacingAndGlyphs">3.50</text>
<text x="39.10" y="415.30" font-size="14.4" class="b" textLength="26.30" lengthAdjust="spacingAndGlyphs">3.00</text>
<text x="39.10" y="444.45" font-size="14.4" class="b" textLength="26.30" lengthAdjust="spacingAndGlyphs">2.50</text>
<text x="39.10" y="473.60" font-size="14.4" class="b" textLength="26.30" lengthAdjust="spacingAndGlyphs">2.00</text>
<text x="38.47" y="502.75" font-size="14.4" class="b" textLength="26.95" lengthAdjust="spacingAndGlyphs">1.50</text>
<text x="38.47" y="531.90" font-size="14.4" class="b" textLength="26.95" lengthAdjust="spacingAndGlyphs">1.00</text>
<text x="39.10" y="561.05" font-size="14.4" class="b" textLength="26.30" lengthAdjust="spacingAndGlyphs">0.50</text>
<text x="39.10" y="590.20" font-size="14.4" class="b" textLength="26.30" lengthAdjust="spacingAndGlyphs">0.00</text>
<text x="76.47" y="610.80" font-size="14.4" class="b" textLength="7.86" lengthAdjust="spacingAndGlyphs">0</text>
<text x="134.34" y="610.80" font-size="14.4" class="b" textLength="15.54" lengthAdjust="spacingAndGlyphs">20</text>
<text x="196.45" y="610.80" font-size="14.4" class="b" textLength="15.13" lengthAdjust="spacingAndGlyphs">40</text>
<text x="257.85" y="610.80" font-size="14.4" class="b" textLength="15.46" lengthAdjust="spacingAndGlyphs">60</text>
<text x="319.57" y="610.80" font-size="14.4" class="b" textLength="15.46" lengthAdjust="spacingAndGlyphs">80</text>
<text x="376.98" y="610.80" font-size="14.4" class="b" textLength="23.37" lengthAdjust="spacingAndGlyphs">100</text>
<text x="438.69" y="610.80" font-size="14.4" class="b" textLength="23.37" lengthAdjust="spacingAndGlyphs">120</text>
<text x="500.40" y="610.80" font-size="14.4" class="b" textLength="23.37" lengthAdjust="spacingAndGlyphs">140</text>
<text x="265.55" y="629.50" font-size="16.5" class="b" textLength="62.04" lengthAdjust="spacingAndGlyphs">Time (d)</text>
<text x="-80.76" y="0.00" font-size="15.5" class="b" textLength="161.97" lengthAdjust="spacingAndGlyphs" transform="translate(28.6,468.90) rotate(-90)">Biomass (kg COD/m³)</text>
<line x1="268.20" y1="355.9" x2="268.20" y2="585.5" stroke="#555" stroke-width="1.6" stroke-dasharray="7.7 7.17"/>
<line x1="376.70" y1="352.3" x2="376.70" y2="585.5" stroke="#5f5f5f" stroke-width="1.15" stroke-dasharray="4.3 2.8"/>
<text x="83.35" y="367.30" font-size="16" class="b" textLength="44.91" lengthAdjust="spacingAndGlyphs" style="stroke-width:0.3px">OLR =</text>
<text x="130.44" y="367.30" font-size="16" textLength="17.50" lengthAdjust="spacingAndGlyphs">1.1</text>
<text x="151.39" y="367.30" font-size="16" textLength="41.16" lengthAdjust="spacingAndGlyphs">gCOD</text>
<text x="196.30" y="367.30" font-size="16" textLength="5.35" lengthAdjust="spacingAndGlyphs">/</text>
<text x="205.60" y="367.30" font-size="16" textLength="36.33" lengthAdjust="spacingAndGlyphs">(L×d)</text>
<text x="270.31" y="367.30" font-size="16" textLength="17.92" lengthAdjust="spacingAndGlyphs">1.7</text>
<text x="291.29" y="367.30" font-size="16" textLength="41.16" lengthAdjust="spacingAndGlyphs">gCOD</text>
<text x="336.20" y="367.30" font-size="16" textLength="5.35" lengthAdjust="spacingAndGlyphs">/</text>
<text x="345.50" y="367.30" font-size="16" textLength="36.33" lengthAdjust="spacingAndGlyphs">(L×d)</text>
<text x="394.57" y="367.30" font-size="16" textLength="17.38" lengthAdjust="spacingAndGlyphs">2.9</text>
<text x="414.89" y="367.30" font-size="16" textLength="41.16" lengthAdjust="spacingAndGlyphs">gCOD</text>
<text x="459.80" y="367.30" font-size="16" textLength="5.35" lengthAdjust="spacingAndGlyphs">/</text>
<text x="469.10" y="367.30" font-size="16" textLength="36.33" lengthAdjust="spacingAndGlyphs">(L×d)</text>
<path d="M80.4,585.5 L81.6,584.3 L81.9,583.6 L82.8,579.1 L83.4,576.1 L83.8,574.7 L84.9,572.9 L86.4,571.5 L86.4,571.5 L87.9,570.6 L89.4,569.9 L90.3,569.6 L90.9,569.4 L92.4,568.9 L93.9,568.5 L95.2,568.3 L95.4,568.3 L96.9,568.1 L98.4,568.0 L99.1,568.0 L99.9,568.0 L101.4,568.1 L102.9,568.3 L104.4,568.6 L105.5,568.7 L105.9,568.8 L107.4,568.9 L108.9,569.1 L110.4,569.3 L111.9,569.5 L111.9,569.5 L113.4,569.6 L114.9,569.8 L116.4,570.0 L117.9,570.1 L119.4,570.3 L120.9,570.4 L121.7,570.5 L122.4,570.5 L123.9,570.6 L125.4,570.7 L126.9,570.8 L128.4,570.9 L129.9,571.0 L131.4,571.0 L132.9,571.1 L134.4,571.2 L135.9,571.3 L137.4,571.3 L138.9,571.4 L140.4,571.4 L141.9,571.5 L142.1,571.5 L143.4,571.6 L144.9,571.6 L146.5,571.6 L148.0,571.7 L149.5,571.7 L150.1,571.7 L151.0,571.8 L152.5,571.8 L154.0,571.9 L155.5,571.9 L157.0,572.0 L158.5,572.0 L160.0,572.1 L161.5,572.1 L163.0,572.1 L164.5,572.2 L165.3,572.2 L166.0,572.2 L167.5,572.3 L169.0,572.3 L170.5,572.3 L172.0,572.4 L173.5,572.4 L175.0,572.4 L176.5,572.5 L178.0,572.5 L179.5,572.5 L181.0,572.6 L182.5,572.6 L184.0,572.6 L185.3,572.7 L185.5,572.7 L187.0,572.7 L188.5,572.8 L190.0,572.8 L191.5,572.9 L193.0,573.0 L194.5,573.0 L196.0,573.1 L197.5,573.1 L199.0,573.2 L200.5,573.2 L202.0,573.2 L203.5,573.3 L203.8,573.3 L205.0,573.3 L206.5,573.3 L208.0,573.3 L209.5,573.3 L211.0,573.2 L212.5,573.2 L214.0,573.2 L215.5,573.2 L217.0,573.2 L218.5,573.2 L220.0,573.2 L221.5,573.2 L223.0,573.2 L224.5,573.2 L226.0,573.2 L227.5,573.2 L229.0,573.2 L230.5,573.2 L232.0,573.2 L233.5,573.1 L234.7,573.1 L235.0,573.1 L236.5,573.1 L238.0,573.1 L239.5,573.1 L241.0,573.0 L242.5,573.0 L244.0,572.9 L245.5,572.9 L247.0,572.8 L248.5,572.7 L250.0,572.7 L251.5,572.6 L253.0,572.5 L254.5,572.5 L256.0,572.4 L257.5,572.3 L259.0,572.3 L260.5,572.2 L262.0,572.2 L263.5,572.1 L265.0,572.1 L265.5,572.1 L266.5,572.1 L268.0,572.1 L269.5,572.0 L271.0,572.0 L272.5,572.0 L274.0,572.0 L275.6,572.0 L277.1,572.0 L278.6,571.9 L280.1,571.9 L281.6,571.9 L283.1,571.9 L284.6,571.9 L286.1,571.9 L287.6,571.8 L289.1,571.8 L290.2,571.8 L290.6,571.8 L292.1,571.8 L293.6,571.7 L295.1,571.7 L296.6,571.6 L298.1,571.5 L299.6,571.5 L301.1,571.4 L302.6,571.3 L304.1,571.2 L305.6,571.1 L307.1,571.0 L308.6,571.0 L310.1,570.9 L311.6,570.8 L313.1,570.7 L314.6,570.6 L316.1,570.5 L317.6,570.4 L319.1,570.3 L320.6,570.3 L322.1,570.2 L323.6,570.1 L325.1,570.1 L326.6,570.0 L327.3,570.0 L328.1,570.0 L329.6,569.9 L331.1,569.9 L332.6,569.8 L334.1,569.8 L335.6,569.7 L337.1,569.7 L338.6,569.7 L340.1,569.6 L341.6,569.6 L343.1,569.5 L344.6,569.5 L346.1,569.5 L347.6,569.4 L349.1,569.4 L350.6,569.3 L352.1,569.3 L353.6,569.3 L355.1,569.2 L356.6,569.2 L358.1,569.2 L359.6,569.2 L361.1,569.1 L362.6,569.1 L364.1,569.1 L365.6,569.1 L367.1,569.1 L368.6,569.0 L370.1,569.0 L371.6,569.0 L373.1,569.0 L374.6,569.0 L376.1,569.0 L376.6,569.0 L377.6,569.1 L379.1,569.3 L380.6,569.6 L381.3,569.6 L382.1,569.5 L383.6,569.3 L385.1,569.0 L386.6,568.7 L388.1,568.3 L389.6,568.1 L390.2,568.0 L391.1,567.9 L392.6,567.8 L394.1,567.7 L395.6,567.6 L397.1,567.5 L398.6,567.5 L400.1,567.4 L401.6,567.3 L403.1,567.3 L404.7,567.2 L406.2,567.2 L407.7,567.1 L409.2,567.1 L410.6,567.0 L410.7,567.0 L412.2,567.0 L413.7,566.9 L415.2,566.9 L416.7,566.8 L418.2,566.8 L419.7,566.7 L421.2,566.7 L422.7,566.7 L424.2,566.7 L425.7,566.6 L427.2,566.6 L428.7,566.6 L429.1,566.6 L430.2,566.6 L431.7,566.6 L433.2,566.6 L434.7,566.6 L436.2,566.6 L437.7,566.6 L439.2,566.6 L440.7,566.6 L442.2,566.6 L443.7,566.6 L445.2,566.6 L446.7,566.6 L448.2,566.6 L449.7,566.6 L450.7,566.6 L451.2,566.6 L452.7,566.6 L454.2,566.6 L455.7,566.7 L457.2,566.7 L458.7,566.7 L460.2,566.7 L461.7,566.8 L463.2,566.8 L464.7,566.9 L466.2,566.9 L467.7,567.0 L469.2,567.0" fill="none" stroke="#1f6fc9" stroke-width="2.25" stroke-linejoin="round" stroke-linecap="butt"/>
<path d="M80.4,503.8 L81.9,506.5 L83.4,509.1 L84.9,511.7 L86.4,514.2 L86.4,514.2 L87.9,516.7 L89.4,519.1 L90.9,521.4 L92.4,523.7 L92.7,524.2 L93.9,525.8 L95.4,528.0 L96.9,530.0 L98.4,531.9 L99.1,532.7 L99.9,533.6 L101.4,535.2 L102.9,536.7 L104.4,538.1 L105.5,539.0 L105.9,539.4 L107.4,540.7 L108.9,541.8 L110.4,543.0 L111.9,544.1 L111.9,544.1 L113.4,545.3 L114.9,546.4 L116.4,547.6 L117.9,548.6 L118.2,548.8 L119.4,549.7 L120.9,550.7 L122.4,551.7 L123.9,552.7 L124.5,553.0 L125.4,553.6 L126.9,554.5 L128.4,555.4 L129.9,556.3 L131.0,556.9 L131.4,557.1 L132.9,558.0 L134.4,558.8 L135.9,559.7 L137.2,560.3 L137.4,560.5 L138.9,561.2 L140.4,562.0 L141.9,562.7 L142.1,562.8 L143.4,563.4 L144.9,564.1 L146.5,564.7 L148.0,565.3 L149.5,565.9 L150.1,566.1 L151.0,566.4 L152.5,566.9 L154.0,567.3 L155.5,567.7 L157.0,568.1 L157.5,568.3 L158.5,568.5 L160.0,568.9 L161.5,569.3 L163.0,569.7 L163.4,569.8 L164.5,570.0 L166.0,570.3 L167.5,570.6 L169.0,570.8 L170.5,571.1 L172.0,571.4 L173.5,571.6 L174.2,571.7 L175.0,571.9 L176.5,572.1 L178.0,572.4 L179.5,572.6 L181.0,572.9 L182.5,573.1 L184.0,573.3 L185.0,573.5 L185.5,573.6 L187.0,573.8 L188.5,574.0 L190.0,574.2 L191.5,574.4 L193.0,574.6 L194.5,574.8 L196.0,575.0 L196.1,575.0 L197.5,575.2 L199.0,575.4 L200.5,575.7 L202.0,575.9 L203.5,576.1 L203.8,576.1 L205.0,576.2 L206.5,576.4 L208.0,576.6 L209.5,576.7 L211.0,576.8 L212.5,577.0 L214.0,577.1 L215.5,577.2 L217.0,577.4 L218.5,577.5 L219.9,577.6 L220.0,577.6 L221.5,577.8 L223.0,578.0 L224.5,578.1 L226.0,578.3 L227.5,578.5 L229.0,578.7 L230.5,578.9 L232.0,579.0 L233.5,579.2 L235.0,579.3 L236.5,579.5 L238.0,579.6 L239.5,579.7 L239.9,579.7 L241.0,579.7 L242.5,579.8 L244.0,579.8 L245.5,579.9 L247.0,579.9 L248.5,579.9 L250.0,580.0 L251.5,580.0 L253.0,580.1 L254.5,580.1 L256.0,580.1 L257.5,580.1 L259.0,580.2 L260.5,580.2 L262.0,580.2 L263.5,580.2 L265.0,580.2 L265.5,580.3 L266.5,580.3 L268.0,580.3 L269.5,580.3 L271.0,580.3 L272.5,580.3 L274.0,580.3 L275.6,580.3 L277.1,580.3 L278.6,580.3 L280.1,580.4 L281.6,580.4 L283.1,580.4 L284.6,580.4 L286.1,580.4 L287.6,580.4 L289.1,580.4 L290.2,580.4 L290.6,580.4 L292.1,580.4 L293.6,580.5 L295.1,580.5 L296.6,580.5 L298.1,580.5 L299.6,580.5 L301.1,580.6 L302.6,580.6 L304.1,580.6 L305.6,580.6 L307.1,580.6 L308.6,580.7 L310.1,580.7 L311.6,580.7 L313.1,580.7 L314.6,580.8 L316.1,580.8 L317.6,580.8 L319.1,580.8 L320.6,580.9 L322.1,580.9 L323.6,580.9 L325.1,581.0 L326.6,581.0 L327.3,581.0 L328.1,581.0 L329.6,581.1 L331.1,581.1 L332.6,581.1 L334.1,581.2 L335.6,581.2 L337.1,581.3 L338.6,581.3 L340.1,581.4 L341.6,581.4 L343.1,581.5 L344.6,581.5 L346.1,581.6 L347.6,581.6 L349.1,581.7 L350.6,581.7 L352.1,581.8 L353.6,581.8 L355.1,581.9 L356.6,581.9 L358.1,582.0 L359.6,582.1 L361.1,582.2 L362.6,582.2 L364.1,582.3 L365.6,582.4 L367.1,582.4 L367.4,582.4 L368.6,582.4 L370.1,582.3 L371.6,582.1 L373.1,581.9 L374.6,581.6 L376.1,581.3 L377.6,581.1 L379.1,580.9 L379.7,580.8 L380.6,580.7 L382.1,580.6 L383.6,580.4 L385.1,580.2 L386.6,580.1 L388.1,580.0 L389.0,580.0 L389.6,580.0 L391.1,580.0 L392.6,580.0 L394.1,580.0 L395.6,580.0 L397.1,580.0 L398.6,580.0 L400.1,580.0 L401.6,580.0 L403.1,580.0 L404.7,580.0 L406.2,580.0 L407.7,580.0 L409.2,580.0 L410.6,580.0 L410.7,580.0 L412.2,580.0 L413.7,580.0 L415.2,580.1 L416.7,580.1 L418.2,580.1 L419.7,580.1 L421.2,580.2 L422.7,580.2 L424.2,580.3 L425.7,580.3 L427.2,580.4 L428.7,580.4 L430.2,580.5 L431.7,580.6 L433.2,580.6 L434.7,580.7 L436.2,580.7 L437.7,580.8 L439.2,580.8 L440.7,580.9 L442.2,580.9 L443.7,580.9 L445.2,581.0 L446.7,581.0 L448.2,581.0 L449.7,581.0 L450.7,581.0 L451.2,581.0 L452.7,581.0 L454.2,581.0 L455.7,581.0 L457.2,581.0 L458.7,581.0 L460.2,581.0 L461.7,581.0 L463.2,581.0 L464.7,581.0 L466.2,581.0 L467.7,581.0 L469.2,581.0" fill="none" stroke="#f57c1f" stroke-width="2.25" stroke-linejoin="round" stroke-linecap="butt"/>
<path d="M80.4,539.0 L81.9,535.9 L81.9,535.8 L83.4,533.6 L84.4,532.9 L84.9,532.9 L86.4,533.1 L87.7,533.3 L87.9,533.4 L89.4,534.0 L90.9,534.8 L92.4,535.7 L92.7,535.8 L93.9,536.4 L95.4,537.2 L96.9,538.0 L98.4,538.7 L99.1,539.0 L99.9,539.4 L101.4,540.0 L102.9,540.6 L104.4,541.2 L105.5,541.6 L105.9,541.7 L107.4,542.2 L108.9,542.7 L110.4,543.2 L111.9,543.5 L111.9,543.5 L113.4,543.9 L114.9,544.1 L116.4,544.4 L117.9,544.7 L118.2,544.7 L119.4,545.0 L120.9,545.3 L122.4,545.6 L123.9,545.9 L124.5,546.0 L125.4,546.2 L126.9,546.4 L128.4,546.7 L129.9,546.9 L131.0,547.1 L131.4,547.1 L132.9,547.4 L134.4,547.6 L135.9,547.8 L137.2,548.0 L137.4,548.0 L138.9,548.2 L140.4,548.4 L141.9,548.6 L142.1,548.6 L143.4,548.7 L144.9,548.8 L146.5,549.0 L148.0,549.1 L149.5,549.2 L150.1,549.2 L151.0,549.3 L152.5,549.4 L154.0,549.6 L155.5,549.7 L157.0,549.8 L158.5,550.0 L160.0,550.1 L161.5,550.3 L163.0,550.5 L163.4,550.5 L164.5,550.7 L166.0,550.9 L167.5,551.2 L169.0,551.4 L170.5,551.7 L172.0,552.0 L173.5,552.4 L174.2,552.5 L175.0,552.7 L176.5,553.0 L178.0,553.3 L179.5,553.7 L181.0,554.1 L182.5,554.4 L184.0,554.7 L185.0,555.0 L185.5,555.0 L187.0,555.3 L188.5,555.6 L190.0,555.9 L191.5,556.2 L193.0,556.4 L194.5,556.7 L196.0,556.9 L196.1,556.9 L197.5,557.0 L199.0,557.2 L200.5,557.3 L202.0,557.4 L203.5,557.5 L203.8,557.6 L205.0,557.7 L206.5,557.8 L208.0,557.9 L209.5,558.1 L211.0,558.2 L212.5,558.3 L214.0,558.4 L215.5,558.6 L217.0,558.7 L218.5,558.8 L219.9,559.0 L220.0,559.0 L221.5,559.1 L223.0,559.3 L224.5,559.4 L226.0,559.6 L227.5,559.7 L229.0,559.9 L230.5,560.1 L232.0,560.2 L233.5,560.4 L235.0,560.5 L236.5,560.7 L238.0,560.8 L239.5,561.0 L239.9,561.0 L241.0,561.1 L242.5,561.3 L244.0,561.4 L245.5,561.5 L247.0,561.7 L248.5,561.8 L250.0,561.9 L251.5,562.0 L253.0,562.2 L254.5,562.3 L256.0,562.4 L257.5,562.5 L259.0,562.7 L260.5,562.8 L262.0,562.9 L263.5,563.0 L265.0,563.1 L266.5,563.2 L268.0,563.3 L268.0,563.3 L269.5,563.5 L271.0,563.6 L272.5,563.7 L274.0,563.8 L275.6,564.0 L277.1,564.1 L278.6,564.2 L280.1,564.4 L281.6,564.5 L283.1,564.6 L284.6,564.6 L286.1,564.7 L287.6,564.8 L289.1,564.8 L290.2,564.8 L290.6,564.8 L292.1,564.8 L293.6,564.8 L295.1,564.7 L296.6,564.7 L298.1,564.6 L299.6,564.6 L301.1,564.5 L302.6,564.4 L304.1,564.3 L305.6,564.2 L307.1,564.1 L308.6,564.0 L310.1,563.9 L311.6,563.8 L313.1,563.7 L314.6,563.6 L316.1,563.5 L317.6,563.3 L319.1,563.2 L320.6,563.1 L322.1,563.0 L323.6,563.0 L325.1,562.9 L326.6,562.8 L327.3,562.8 L328.1,562.7 L329.6,562.7 L331.1,562.6 L332.6,562.5 L334.1,562.4 L335.6,562.3 L337.1,562.3 L338.6,562.2 L340.1,562.1 L341.6,562.1 L343.1,562.0 L344.6,562.0 L346.1,561.9 L347.6,561.9 L349.1,561.9 L350.1,561.9 L350.6,561.9 L352.1,561.9 L353.6,562.0 L355.1,562.0 L356.6,562.1 L358.1,562.2 L359.6,562.3 L361.1,562.5 L362.6,562.6 L364.1,562.7 L365.6,562.8 L367.1,563.0 L368.6,563.1 L370.1,563.2 L371.6,563.3 L373.1,563.3 L374.6,563.4 L376.1,563.4 L376.6,563.4 L377.6,563.4 L379.1,563.3 L380.6,563.1 L382.1,562.9 L383.6,562.6 L385.1,562.3 L386.6,562.1 L388.1,561.8 L389.6,561.6 L390.2,561.6 L391.1,561.5 L392.6,561.4 L394.1,561.3 L395.6,561.1 L397.1,561.0 L398.6,560.9 L400.1,560.8 L401.6,560.7 L403.1,560.6 L404.7,560.6 L406.2,560.5 L407.7,560.5 L409.2,560.4 L410.3,560.4 L410.7,560.4 L412.2,560.4 L413.7,560.5 L415.2,560.5 L416.7,560.5 L418.2,560.5 L419.7,560.6 L421.2,560.6 L422.7,560.7 L424.2,560.7 L425.7,560.8 L427.2,560.9 L428.7,560.9 L430.2,561.0 L431.7,561.1 L433.2,561.1 L434.7,561.2 L436.2,561.3 L437.7,561.3 L439.2,561.4 L440.7,561.5 L442.2,561.5 L443.7,561.6 L444.5,561.6 L445.2,561.6 L446.7,561.7 L448.2,561.7 L449.7,561.8 L451.2,561.8 L452.7,561.9 L454.2,561.9 L455.7,562.0 L457.2,562.0 L458.7,562.1 L460.2,562.1 L461.7,562.2 L463.2,562.2 L464.7,562.3 L466.2,562.3 L467.7,562.4 L469.2,562.4" fill="none" stroke="#1f9be0" stroke-width="2.25" stroke-linejoin="round" stroke-linecap="butt"/>
<path d="M80.4,567.0 L81.9,565.2 L83.4,564.0 L83.8,563.9 L84.9,563.6 L86.4,563.4 L87.9,563.3 L88.9,563.2 L89.4,563.3 L90.9,563.6 L92.4,564.0 L92.7,564.1 L93.9,564.4 L95.4,564.9 L96.9,565.4 L98.4,565.8 L99.1,566.0 L99.9,566.3 L101.4,566.6 L102.9,567.0 L104.4,567.4 L105.5,567.7 L105.9,567.8 L107.4,568.2 L108.9,568.5 L110.4,568.9 L111.9,569.2 L111.9,569.2 L113.4,569.6 L114.9,569.9 L116.4,570.1 L117.9,570.4 L118.2,570.5 L119.4,570.7 L120.9,570.9 L122.4,571.2 L123.9,571.4 L124.5,571.5 L125.4,571.6 L126.9,571.9 L128.4,572.1 L129.9,572.3 L131.0,572.4 L131.4,572.4 L132.9,572.6 L134.4,572.8 L135.9,572.9 L137.2,573.0 L137.4,573.0 L138.9,573.2 L140.4,573.3 L141.9,573.4 L142.1,573.4 L143.4,573.5 L144.9,573.5 L146.5,573.6 L148.0,573.6 L149.5,573.6 L150.1,573.7 L151.0,573.7 L152.5,573.7 L154.0,573.8 L155.5,573.9 L157.0,573.9 L158.5,574.0 L160.0,574.0 L161.5,574.1 L163.0,574.1 L163.4,574.1 L164.5,574.2 L166.0,574.2 L167.5,574.2 L169.0,574.3 L170.5,574.3 L172.0,574.3 L173.5,574.3 L175.0,574.4 L176.5,574.4 L178.0,574.4 L179.5,574.4 L181.0,574.5 L182.5,574.5 L184.0,574.6 L185.0,574.6 L185.5,574.6 L187.0,574.7 L188.5,574.8 L190.0,574.9 L191.5,575.0 L193.0,575.2 L194.5,575.3 L196.0,575.5 L197.5,575.6 L199.0,575.8 L200.5,575.9 L202.0,576.0 L203.5,576.2 L203.8,576.2 L205.0,576.2 L206.5,576.3 L208.0,576.4 L209.5,576.5 L211.0,576.6 L212.5,576.7 L214.0,576.7 L215.5,576.8 L217.0,576.9 L218.5,577.0 L220.0,577.0 L221.5,577.1 L223.0,577.2 L224.5,577.2 L226.0,577.3 L227.5,577.4 L229.0,577.4 L230.5,577.5 L232.0,577.6 L233.5,577.6 L235.0,577.7 L236.5,577.8 L238.0,577.8 L239.5,577.9 L239.9,577.9 L241.0,578.0 L242.5,578.1 L244.0,578.1 L245.5,578.2 L247.0,578.3 L248.5,578.4 L250.0,578.5 L251.5,578.6 L253.0,578.7 L254.5,578.8 L256.0,578.8 L257.5,578.9 L259.0,579.0 L260.5,579.0 L262.0,579.0 L263.5,579.1 L265.0,579.1 L265.5,579.1 L266.5,579.1 L268.0,579.1 L269.5,579.1 L271.0,579.1 L272.5,579.1 L274.0,579.1 L275.6,579.1 L277.1,579.1 L278.6,579.1 L280.1,579.0 L281.6,579.0 L283.1,579.0 L284.6,579.0 L286.1,579.0 L287.6,579.0 L289.1,579.0 L290.6,579.0 L292.1,579.0 L293.6,579.0 L295.1,578.9 L296.6,578.9 L298.1,578.9 L299.6,578.9 L301.1,578.9 L302.6,578.9 L304.1,578.9 L305.6,578.8 L307.1,578.8 L308.6,578.8 L310.1,578.8 L311.6,578.8 L313.1,578.8 L314.6,578.8 L316.1,578.7 L317.6,578.7 L319.1,578.7 L320.6,578.7 L322.1,578.7 L323.6,578.7 L325.1,578.6 L326.6,578.6 L327.3,578.6 L328.1,578.6 L329.6,578.6 L331.1,578.6 L332.6,578.6 L334.1,578.5 L335.6,578.5 L337.1,578.5 L338.6,578.5 L340.1,578.4 L341.6,578.4 L343.1,578.4 L344.6,578.4 L346.1,578.3 L347.6,578.3 L349.1,578.3 L350.6,578.2 L352.1,578.2 L353.6,578.2 L355.1,578.2 L356.6,578.1 L358.1,578.1 L359.6,578.1 L361.1,578.0 L362.6,578.0 L364.1,578.0 L365.6,577.9 L367.1,577.9 L368.6,577.9 L370.1,577.9 L371.6,577.8 L373.1,577.8 L374.6,577.8 L376.1,577.8 L377.6,577.7 L379.1,577.7 L380.6,577.7 L382.1,577.7 L383.6,577.7 L385.1,577.7 L386.6,577.6 L388.1,577.6 L389.0,577.6 L389.6,577.6 L391.1,577.6 L392.6,577.6 L394.1,577.6 L395.6,577.6 L397.1,577.6 L398.6,577.6 L400.1,577.6 L401.6,577.6 L403.1,577.5 L404.7,577.5 L406.2,577.5 L407.7,577.5 L409.2,577.5 L410.7,577.5 L412.2,577.5 L413.7,577.5 L415.2,577.5 L416.7,577.5 L418.2,577.5 L419.7,577.5 L421.2,577.5 L422.7,577.4 L424.2,577.4 L425.7,577.4 L427.2,577.4 L428.7,577.4 L430.2,577.4 L431.7,577.4 L433.2,577.4 L434.7,577.4 L436.2,577.4 L437.7,577.4 L439.2,577.4 L440.7,577.4 L442.2,577.4 L443.7,577.4 L445.2,577.4 L446.7,577.4 L448.2,577.4 L449.7,577.4 L451.2,577.4 L452.7,577.4 L454.2,577.4 L455.7,577.3 L457.2,577.3 L458.7,577.3 L460.2,577.3 L461.7,577.3 L463.2,577.3 L464.7,577.3 L466.2,577.3 L467.7,577.3 L469.2,577.3" fill="none" stroke="#3aaa35" stroke-width="2.25" stroke-linejoin="round" stroke-linecap="butt"/>
<path d="M80.4,585.5 L81.9,585.5 L83.4,585.5 L84.9,585.5 L86.4,585.5 L87.9,585.5 L89.4,585.5 L90.9,585.5 L92.4,585.5 L93.9,585.5 L95.4,585.5 L96.9,585.5 L98.4,585.5 L99.9,585.5 L101.4,585.5 L101.7,585.5 L102.9,585.4 L104.4,585.1 L105.5,584.9 L105.9,584.8 L107.4,584.4 L108.9,584.1 L110.4,583.6 L110.6,583.6 L111.9,583.1 L113.4,582.4 L114.9,581.7 L115.6,581.4 L116.4,581.1 L117.9,580.6 L119.4,580.2 L119.6,580.1 L120.9,579.7 L122.4,579.3 L123.9,579.0 L124.5,578.9 L125.4,578.7 L126.9,578.5 L128.4,578.3 L129.9,578.2 L131.0,578.1 L131.4,578.1 L132.9,578.0 L134.4,577.9 L135.9,577.9 L137.4,577.8 L138.9,577.7 L140.4,577.7 L141.9,577.6 L142.1,577.6 L143.4,577.6 L144.9,577.5 L146.5,577.5 L148.0,577.4 L149.5,577.4 L150.1,577.3 L151.0,577.3 L152.5,577.3 L154.0,577.2 L155.5,577.2 L157.0,577.2 L158.5,577.2 L160.0,577.1 L161.5,577.1 L163.0,577.1 L164.5,577.1 L165.3,577.0 L166.0,577.0 L167.5,577.0 L169.0,577.0 L170.5,577.0 L172.0,577.0 L173.5,577.0 L175.0,577.0 L176.5,576.9 L178.0,576.9 L179.5,576.9 L181.0,576.9 L182.5,576.9 L184.0,576.9 L185.5,576.9 L187.0,576.9 L188.5,576.9 L190.0,576.9 L191.5,576.9 L193.0,576.9 L194.5,576.8 L196.0,576.8 L197.5,576.8 L199.0,576.8 L200.5,576.8 L202.0,576.8 L203.5,576.8 L203.8,576.8 L205.0,576.7 L206.5,576.7 L208.0,576.7 L209.5,576.6 L211.0,576.6 L212.5,576.6 L214.0,576.5 L215.5,576.5 L217.0,576.5 L218.5,576.5 L219.3,576.5 L220.0,576.5 L221.5,576.5 L223.0,576.5 L224.5,576.5 L226.0,576.5 L227.5,576.5 L229.0,576.5 L230.5,576.5 L232.0,576.5 L233.5,576.5 L235.0,576.5 L236.5,576.5 L238.0,576.5 L239.5,576.6 L241.0,576.6 L242.5,576.6 L244.0,576.6 L245.5,576.6 L247.0,576.6 L248.5,576.6 L250.0,576.6 L251.5,576.7 L253.0,576.7 L254.5,576.7 L256.0,576.7 L257.5,576.7 L259.0,576.7 L260.5,576.7 L262.0,576.7 L263.5,576.7 L265.0,576.8 L265.5,576.8 L266.5,576.8 L268.0,576.8 L269.5,576.8 L271.0,576.8 L272.5,576.8 L274.0,576.8 L275.6,576.8 L277.1,576.8 L278.6,576.8 L280.1,576.8 L281.6,576.8 L283.1,576.8 L284.6,576.8 L286.1,576.8 L287.6,576.9 L289.1,576.9 L290.6,576.9 L292.1,576.9 L293.6,576.9 L295.1,576.9 L296.6,576.9 L298.1,576.9 L299.6,576.9 L301.1,576.9 L302.6,576.9 L304.1,576.9 L305.6,576.9 L307.1,576.9 L308.6,576.9 L310.1,576.9 L311.6,576.9 L313.1,576.9 L314.6,576.9 L316.1,577.0 L317.6,577.0 L319.1,577.0 L320.6,577.0 L322.1,577.0 L323.6,577.0 L325.1,577.0 L326.6,577.0 L327.3,577.0 L328.1,577.0 L329.6,577.0 L331.1,577.0 L332.6,577.0 L334.1,577.0 L335.6,577.0 L337.1,577.0 L338.6,577.0 L340.1,577.0 L341.6,577.0 L343.1,577.0 L344.6,577.0 L346.1,577.0 L347.6,577.0 L349.1,577.1 L350.6,577.1 L352.1,577.1 L353.6,577.1 L355.1,577.1 L356.6,577.1 L358.1,577.1 L359.6,577.1 L361.1,577.1 L362.6,577.1 L364.1,577.1 L365.6,577.1 L367.1,577.1 L368.6,577.1 L370.1,577.1 L371.6,577.1 L373.1,577.1 L374.6,577.1 L376.1,577.1 L377.6,577.1 L379.1,577.1 L380.6,577.1 L382.1,577.1 L383.6,577.2 L385.1,577.2 L386.6,577.2 L388.1,577.2 L389.6,577.2 L391.1,577.2 L392.6,577.2 L394.1,577.2 L395.6,577.2 L397.1,577.2 L398.6,577.2 L400.1,577.2 L401.6,577.2 L403.1,577.2 L404.7,577.2 L406.2,577.2 L407.7,577.2 L409.2,577.2 L410.7,577.2 L412.2,577.2 L413.7,577.2 L415.2,577.2 L416.7,577.2 L418.2,577.2 L419.7,577.2 L421.2,577.2 L422.7,577.2 L424.2,577.3 L425.7,577.3 L427.2,577.3 L428.7,577.3 L430.2,577.3 L431.7,577.3 L433.2,577.3 L434.7,577.3 L436.2,577.3 L437.7,577.3 L439.2,577.3 L440.7,577.3 L442.2,577.3 L443.7,577.3 L445.2,577.3 L446.7,577.3 L448.2,577.3 L449.7,577.3 L451.2,577.3 L452.7,577.3 L454.2,577.3 L455.7,577.3 L457.2,577.3 L458.7,577.3 L460.2,577.3 L461.7,577.3 L463.2,577.3 L464.7,577.3 L466.2,577.3 L467.7,577.3 L469.2,577.3" fill="none" stroke="#0b3d91" stroke-width="2.25" stroke-linejoin="round" stroke-linecap="butt"/>
<path d="M80.4,381.6 L81.9,386.0 L83.4,390.5 L84.9,394.9 L86.4,399.4 L86.6,399.9 L87.9,404.0 L89.4,408.6 L90.9,413.2 L92.4,417.8 L92.7,418.8 L93.9,422.3 L95.4,426.7 L96.9,431.1 L98.4,435.3 L98.9,436.7 L99.9,439.5 L101.4,443.6 L102.9,447.6 L104.4,451.4 L105.1,453.1 L105.9,455.2 L107.4,458.9 L108.9,462.5 L110.4,465.9 L111.3,467.8 L111.9,469.3 L113.4,472.5 L114.9,475.7 L116.4,478.8 L117.4,480.8 L117.9,481.7 L119.4,484.6 L120.9,487.4 L122.4,490.1 L123.6,492.1 L123.9,492.7 L125.4,495.2 L126.9,497.6 L128.4,500.0 L129.8,502.0 L129.9,502.2 L131.4,504.4 L132.9,506.5 L134.4,508.6 L135.9,510.6 L137.4,512.5 L138.9,514.3 L140.4,516.1 L141.9,517.8 L142.1,518.0 L143.4,519.5 L144.9,521.1 L146.5,522.6 L148.0,524.1 L148.3,524.4 L149.5,525.6 L151.0,527.0 L152.5,528.3 L154.0,529.6 L154.5,530.0 L155.5,530.8 L157.0,532.0 L158.5,533.2 L160.0,534.3 L160.6,534.8 L161.5,535.4 L163.0,536.5 L164.5,537.5 L166.0,538.5 L166.8,539.0 L167.5,539.4 L169.0,540.3 L170.5,541.2 L172.0,542.0 L173.0,542.6 L173.5,542.8 L175.0,543.6 L176.5,544.4 L178.0,545.1 L179.1,545.7 L179.5,545.8 L181.0,546.5 L182.5,547.2 L184.0,547.8 L185.3,548.4 L185.5,548.4 L187.0,549.0 L188.5,549.6 L190.0,550.1 L191.5,550.7 L193.0,551.2 L194.5,551.7 L196.0,552.2 L197.5,552.6 L197.7,552.7 L199.0,553.1 L200.5,553.5 L202.0,553.9 L203.5,554.3 L203.8,554.4 L205.0,554.7 L206.5,555.1 L208.0,555.4 L209.5,555.8 L210.0,555.9 L211.0,556.1 L212.5,556.4 L214.0,556.7 L215.5,557.0 L216.2,557.2 L217.0,557.3 L218.5,557.6 L220.0,557.9 L221.5,558.1 L222.3,558.3 L223.0,558.4 L224.5,558.6 L226.0,558.9 L227.5,559.1 L228.5,559.2 L229.0,559.3 L230.5,559.5 L232.0,559.7 L233.5,559.9 L234.7,560.1 L235.0,560.1 L236.5,560.3 L238.0,560.5 L239.5,560.6 L240.9,560.8 L241.0,560.8 L242.5,561.0 L244.0,561.1 L245.5,561.3 L247.0,561.4 L248.5,561.5 L250.0,561.7 L251.5,561.8 L253.0,561.9 L253.2,561.9 L254.5,562.1 L256.0,562.2 L257.5,562.3 L259.0,562.4 L259.4,562.4 L260.5,562.5 L262.0,562.6 L263.5,562.7 L265.0,562.8 L266.5,562.9 L268.0,563.0 L268.0,563.0 L269.5,563.1 L271.0,563.2 L272.5,563.3 L274.0,563.5 L275.6,563.6 L277.1,563.7 L278.6,563.8 L280.1,564.0 L281.6,564.1 L283.1,564.2 L284.6,564.2 L286.1,564.3 L287.6,564.4 L289.1,564.4 L290.2,564.4 L290.6,564.4 L292.1,564.4 L293.6,564.4 L295.1,564.3 L296.6,564.3 L298.1,564.2 L299.6,564.1 L301.1,564.0 L302.6,563.9 L304.1,563.8 L305.6,563.7 L307.1,563.6 L308.6,563.5 L310.1,563.3 L311.6,563.2 L313.1,563.1 L314.6,562.9 L316.1,562.8 L317.6,562.7 L319.1,562.6 L320.6,562.4 L322.1,562.3 L323.6,562.2 L325.1,562.1 L326.6,562.0 L327.3,562.0 L328.1,562.0 L329.6,561.9 L331.1,561.8 L332.6,561.7 L334.1,561.6 L335.6,561.5 L337.1,561.4 L338.6,561.4 L340.1,561.3 L341.6,561.2 L343.1,561.2 L344.6,561.1 L346.1,561.1 L347.6,561.0 L349.1,561.0 L350.1,561.0 L350.6,561.0 L352.1,561.0 L353.6,561.0 L355.1,561.1 L356.6,561.1 L358.1,561.1 L359.6,561.1 L361.1,561.2 L362.6,561.2 L364.1,561.2 L365.6,561.3 L367.1,561.3 L368.6,561.3 L370.1,561.4 L371.6,561.4 L373.1,561.4 L374.6,561.4 L376.1,561.4 L376.6,561.4 L377.6,561.4 L379.1,561.3 L380.6,561.2 L382.1,561.0 L383.6,560.8 L385.1,560.5 L386.6,560.3 L388.1,560.2 L389.6,560.0 L389.9,560.0 L391.1,560.0 L392.6,559.9 L394.1,559.8 L395.6,559.8 L397.1,559.7 L398.6,559.7 L400.1,559.6 L401.6,559.6 L403.1,559.6 L404.7,559.5 L406.2,559.5 L407.7,559.4 L409.2,559.4 L410.3,559.4 L410.7,559.4 L412.2,559.3 L413.7,559.3 L415.2,559.2 L416.7,559.2 L418.2,559.1 L419.7,559.1 L421.2,559.1 L422.7,559.0 L424.2,559.0 L425.7,559.0 L427.2,559.0 L428.2,559.0 L428.7,559.0 L430.2,559.0 L431.7,559.0 L433.2,559.1 L434.7,559.1 L436.2,559.2 L437.7,559.3 L439.2,559.4 L440.7,559.5 L442.2,559.6 L443.7,559.7 L445.2,559.8 L446.7,559.8 L448.2,559.9 L449.7,560.0 L450.4,560.0 L451.2,560.1 L452.7,560.1 L454.2,560.2 L455.7,560.2 L457.2,560.3 L458.7,560.3 L460.2,560.4 L461.7,560.4 L463.2,560.4 L464.7,560.5 L466.2,560.5 L467.7,560.6 L469.2,560.6" fill="none" stroke="#c0490f" stroke-width="2.25" stroke-linejoin="round" stroke-linecap="butt"/>
<path d="M80.4,518.0 L81.9,518.6 L83.4,519.7 L83.8,520.0 L84.9,521.3 L86.4,523.4 L86.4,523.4 L87.9,525.2 L89.4,527.0 L90.9,528.7 L92.4,530.4 L92.7,530.8 L93.9,532.0 L95.4,533.6 L96.9,535.1 L98.4,536.5 L99.1,537.1 L99.9,537.8 L101.4,539.1 L102.9,540.3 L104.4,541.4 L105.5,542.2 L105.9,542.6 L107.4,543.6 L108.9,544.7 L110.4,545.7 L111.9,546.7 L111.9,546.7 L113.4,547.7 L114.9,548.6 L116.4,549.5 L117.9,550.4 L118.2,550.5 L119.4,551.2 L120.9,551.9 L122.4,552.7 L123.9,553.4 L124.5,553.7 L125.4,554.1 L126.9,554.7 L128.4,555.4 L129.9,556.0 L131.0,556.5 L131.4,556.7 L132.9,557.3 L134.4,557.9 L135.9,558.5 L137.2,559.0 L137.4,559.1 L138.9,559.7 L140.4,560.3 L141.9,560.9 L142.1,561.0 L143.4,561.4 L144.9,561.9 L146.5,562.4 L148.0,562.8 L149.5,563.3 L150.1,563.5 L151.0,563.7 L152.5,564.2 L154.0,564.6 L155.5,565.1 L157.0,565.5 L157.5,565.7 L158.5,565.9 L160.0,566.3 L161.5,566.7 L163.0,567.0 L163.4,567.1 L164.5,567.4 L166.0,567.7 L167.5,568.0 L169.0,568.3 L170.5,568.5 L172.0,568.8 L173.5,569.1 L174.2,569.2 L175.0,569.3 L176.5,569.5 L178.0,569.7 L179.5,569.9 L181.0,570.1 L182.5,570.3 L184.0,570.5 L185.0,570.6 L185.5,570.7 L187.0,570.9 L188.5,571.1 L190.0,571.3 L191.5,571.6 L193.0,571.8 L194.5,572.0 L196.0,572.1 L196.1,572.1 L197.5,572.3 L199.0,572.4 L200.5,572.6 L202.0,572.7 L203.5,572.8 L203.8,572.8 L205.0,572.9 L206.5,573.0 L208.0,573.1 L209.5,573.2 L211.0,573.3 L212.5,573.4 L214.0,573.5 L215.5,573.6 L217.0,573.7 L218.5,573.8 L219.9,573.9 L220.0,573.9 L221.5,574.0 L223.0,574.2 L224.5,574.3 L226.0,574.5 L227.5,574.7 L229.0,574.8 L230.5,575.0 L232.0,575.2 L233.5,575.3 L235.0,575.5 L236.5,575.6 L238.0,575.7 L239.5,575.9 L239.9,575.9 L241.0,575.9 L242.5,576.0 L244.0,576.1 L245.5,576.2 L247.0,576.3 L248.5,576.4 L250.0,576.4 L251.5,576.5 L253.0,576.6 L254.5,576.6 L256.0,576.7 L257.5,576.8 L259.0,576.8 L260.5,576.9 L262.0,576.9 L263.5,576.9 L265.0,577.0 L265.5,577.0 L266.5,577.0 L268.0,577.0 L269.5,577.1 L271.0,577.1 L272.5,577.1 L274.0,577.1 L275.6,577.2 L277.1,577.2 L278.6,577.2 L280.1,577.2 L281.6,577.3 L283.1,577.3 L284.6,577.3 L286.1,577.3 L287.6,577.3 L289.1,577.4 L290.6,577.4 L292.1,577.4 L293.6,577.4 L295.1,577.4 L296.6,577.5 L298.1,577.5 L299.6,577.5 L301.1,577.5 L302.6,577.5 L304.1,577.5 L305.6,577.5 L307.1,577.5 L308.6,577.6 L310.1,577.6 L311.6,577.6 L313.1,577.6 L314.6,577.6 L316.1,577.6 L317.6,577.6 L319.1,577.6 L320.6,577.6 L322.1,577.6 L323.6,577.6 L325.1,577.6 L326.6,577.6 L327.3,577.6 L328.1,577.6 L329.6,577.6 L331.1,577.6 L332.6,577.6 L334.1,577.6 L335.6,577.6 L337.1,577.6 L338.6,577.6 L340.1,577.6 L341.6,577.6 L343.1,577.6 L344.6,577.6 L346.1,577.6 L347.6,577.6 L349.1,577.6 L350.6,577.6 L352.1,577.6 L353.6,577.6 L355.1,577.5 L356.6,577.5 L358.1,577.5 L359.6,577.5 L361.1,577.5 L362.6,577.5 L364.1,577.5 L365.6,577.5 L367.1,577.4 L368.6,577.4 L370.1,577.4 L371.6,577.4 L373.1,577.4 L374.6,577.4 L376.1,577.3 L376.6,577.3 L377.6,577.3 L379.1,577.2 L380.6,577.0 L382.1,576.8 L383.6,576.6 L385.1,576.4 L386.6,576.3 L388.1,576.2 L389.0,576.2 L389.6,576.2 L391.1,576.2 L392.6,576.2 L394.1,576.2 L395.6,576.2 L397.1,576.2 L398.6,576.2 L400.1,576.2 L401.6,576.3 L403.1,576.3 L404.7,576.3 L406.2,576.3 L407.7,576.3 L409.2,576.3 L410.7,576.4 L412.2,576.4 L413.7,576.4 L415.2,576.4 L416.7,576.4 L418.2,576.4 L419.7,576.5 L419.8,576.5 L421.2,576.5 L422.7,576.5 L424.2,576.5 L425.7,576.5 L427.2,576.5 L428.7,576.5 L430.2,576.5 L431.7,576.5 L433.2,576.6 L434.7,576.6 L436.2,576.6 L437.7,576.6 L439.2,576.6 L440.7,576.6 L442.2,576.6 L443.7,576.6 L445.2,576.6 L446.7,576.6 L448.2,576.7 L449.7,576.7 L451.2,576.7 L452.7,576.7 L454.2,576.7 L455.7,576.7 L457.2,576.7 L458.7,576.7 L460.2,576.7 L461.7,576.7 L463.2,576.7 L464.7,576.7 L466.2,576.7 L467.7,576.7 L469.2,576.8" fill="none" stroke="#636363" stroke-width="2.25" stroke-linejoin="round" stroke-linecap="butt"/>
<rect x="407.3" y="383" width="102.39999999999998" height="166" fill="none" stroke="#000" stroke-width="1.3"/>
<line x1="425.7" y1="394.8" x2="455.3" y2="394.8" stroke="#1f6fc9" stroke-width="2.25"/>
<text x="458.10" y="399.70" font-size="15" textLength="23.92" lengthAdjust="spacingAndGlyphs">Xaa</text>
<line x1="425.7" y1="418.5" x2="455.3" y2="418.5" stroke="#f57c1f" stroke-width="2.25"/>
<text x="458.07" y="423.40" font-size="15" textLength="33.48" lengthAdjust="spacingAndGlyphs">Xpro</text>
<line x1="425.7" y1="442.2" x2="455.3" y2="442.2" stroke="#1f9be0" stroke-width="2.25"/>
<text x="458.11" y="447.10" font-size="15" textLength="23.73" lengthAdjust="spacingAndGlyphs">Xac</text>
<line x1="425.7" y1="465.9" x2="455.3" y2="465.9" stroke="#3aaa35" stroke-width="2.25"/>
<text x="458.12" y="470.80" font-size="15" textLength="23.51" lengthAdjust="spacingAndGlyphs">Xc4</text>
<line x1="425.7" y1="489.7" x2="455.3" y2="489.7" stroke="#0b3d91" stroke-width="2.25"/>
<text x="458.11" y="494.60" font-size="15" textLength="22.00" lengthAdjust="spacingAndGlyphs">Xfa</text>
<line x1="425.7" y1="513.5" x2="455.3" y2="513.5" stroke="#c0490f" stroke-width="2.25"/>
<text x="458.09" y="518.40" font-size="15" textLength="25.07" lengthAdjust="spacingAndGlyphs">Xsu</text>
<line x1="425.7" y1="537.3" x2="455.3" y2="537.3" stroke="#636363" stroke-width="2.25"/>
<text x="458.10" y="542.20" font-size="15" textLength="25.65" lengthAdjust="spacingAndGlyphs">Xh2</text>
<text x="274.5" y="655" text-anchor="middle" font-size="14.5">(<tspan class="b">b</tspan>)</text>
</g>
<g>
<rect x="9.5" y="660" width="529.0" height="299.29999999999995" fill="#fff" stroke="#d9d9d9" stroke-width="1"/>
<line x1="81.6" y1="675.50" x2="512.4" y2="675.50" stroke="#d9d9d9" stroke-width="1"/>
<line x1="81.6" y1="705.11" x2="512.4" y2="705.11" stroke="#d9d9d9" stroke-width="1"/>
<line x1="81.6" y1="734.73" x2="512.4" y2="734.73" stroke="#d9d9d9" stroke-width="1"/>
<line x1="81.6" y1="764.34" x2="512.4" y2="764.34" stroke="#d9d9d9" stroke-width="1"/>
<line x1="81.6" y1="793.95" x2="512.4" y2="793.95" stroke="#d9d9d9" stroke-width="1"/>
<line x1="81.6" y1="823.56" x2="512.4" y2="823.56" stroke="#d9d9d9" stroke-width="1"/>
<line x1="81.6" y1="853.17" x2="512.4" y2="853.17" stroke="#d9d9d9" stroke-width="1"/>
<line x1="81.6" y1="882.79" x2="512.4" y2="882.79" stroke="#d9d9d9" stroke-width="1"/>
<line x1="81.6" y1="912.40" x2="512.4" y2="912.40" stroke="#c6c6c6" stroke-width="1"/>
<line x1="81.60" y1="675.5" x2="81.60" y2="912.4" stroke="#bfbfbf" stroke-width="1"/>
<line x1="143.14" y1="675.5" x2="143.14" y2="912.4" stroke="#d9d9d9" stroke-width="1"/>
<line x1="204.69" y1="675.5" x2="204.69" y2="912.4" stroke="#d9d9d9" stroke-width="1"/>
<line x1="266.23" y1="675.5" x2="266.23" y2="912.4" stroke="#d9d9d9" stroke-width="1"/>
<line x1="327.77" y1="675.5" x2="327.77" y2="912.4" stroke="#d9d9d9" stroke-width="1"/>
<line x1="389.31" y1="675.5" x2="389.31" y2="912.4" stroke="#d9d9d9" stroke-width="1"/>
<line x1="450.86" y1="675.5" x2="450.86" y2="912.4" stroke="#d9d9d9" stroke-width="1"/>
<line x1="512.40" y1="675.5" x2="512.40" y2="912.4" stroke="#d9d9d9" stroke-width="1"/>
<text x="41.47" y="680.20" font-size="14.4" class="b" textLength="26.43" lengthAdjust="spacingAndGlyphs">8.00</text>
<text x="41.16" y="709.81" font-size="14.4" class="b" textLength="26.75" lengthAdjust="spacingAndGlyphs">7.00</text>
<text x="41.47" y="739.43" font-size="14.4" class="b" textLength="26.43" lengthAdjust="spacingAndGlyphs">6.00</text>
<text x="41.39" y="769.04" font-size="14.4" class="b" textLength="26.51" lengthAdjust="spacingAndGlyphs">5.00</text>
<text x="41.78" y="798.65" font-size="14.4" class="b" textLength="26.12" lengthAdjust="spacingAndGlyphs">4.00</text>
<text x="41.39" y="828.26" font-size="14.4" class="b" textLength="26.51" lengthAdjust="spacingAndGlyphs">3.00</text>
<text x="41.39" y="857.88" font-size="14.4" class="b" textLength="26.51" lengthAdjust="spacingAndGlyphs">2.00</text>
<text x="40.76" y="887.49" font-size="14.4" class="b" textLength="27.16" lengthAdjust="spacingAndGlyphs">1.00</text>
<text x="41.39" y="917.10" font-size="14.4" class="b" textLength="26.51" lengthAdjust="spacingAndGlyphs">0.00</text>
<text x="77.67" y="938.30" font-size="14.4" class="b" textLength="7.86" lengthAdjust="spacingAndGlyphs">0</text>
<text x="135.37" y="938.30" font-size="14.4" class="b" textLength="15.54" lengthAdjust="spacingAndGlyphs">20</text>
<text x="197.31" y="938.30" font-size="14.4" class="b" textLength="15.13" lengthAdjust="spacingAndGlyphs">40</text>
<text x="258.54" y="938.30" font-size="14.4" class="b" textLength="15.46" lengthAdjust="spacingAndGlyphs">60</text>
<text x="320.08" y="938.30" font-size="14.4" class="b" textLength="15.46" lengthAdjust="spacingAndGlyphs">80</text>
<text x="377.32" y="938.30" font-size="14.4" class="b" textLength="23.37" lengthAdjust="spacingAndGlyphs">100</text>
<text x="438.86" y="938.30" font-size="14.4" class="b" textLength="23.37" lengthAdjust="spacingAndGlyphs">120</text>
<text x="500.40" y="938.30" font-size="14.4" class="b" textLength="23.37" lengthAdjust="spacingAndGlyphs">140</text>
<text x="265.94" y="952.00" font-size="16.5" class="b" textLength="62.55" lengthAdjust="spacingAndGlyphs">Time (d)</text>
<text x="-80.01" y="0.00" font-size="15.5" class="b" textLength="160.46" lengthAdjust="spacingAndGlyphs" transform="translate(30.4,793.95) rotate(-90)">Biomass (kg COD/m³)</text>
<line x1="269.40" y1="675.5" x2="269.40" y2="912.4" stroke="#5f5f5f" stroke-width="1.15" stroke-dasharray="4.3 2.8"/>
<line x1="376.90" y1="675.5" x2="376.90" y2="912.4" stroke="#5f5f5f" stroke-width="1.15" stroke-dasharray="4.3 2.8"/>
<text x="83.35" y="690.30" font-size="16" class="b" textLength="44.91" lengthAdjust="spacingAndGlyphs" style="stroke-width:0.3px">OLR =</text>
<text x="130.44" y="690.30" font-size="16" textLength="17.50" lengthAdjust="spacingAndGlyphs">1.1</text>
<text x="151.39" y="690.30" font-size="16" textLength="41.16" lengthAdjust="spacingAndGlyphs">gCOD</text>
<text x="196.30" y="690.30" font-size="16" textLength="5.35" lengthAdjust="spacingAndGlyphs">/</text>
<text x="205.60" y="690.30" font-size="16" textLength="36.33" lengthAdjust="spacingAndGlyphs">(L×d)</text>
<text x="270.31" y="690.30" font-size="16" textLength="17.92" lengthAdjust="spacingAndGlyphs">1.7</text>
<text x="291.29" y="690.30" font-size="16" textLength="41.16" lengthAdjust="spacingAndGlyphs">gCOD</text>
<text x="336.20" y="690.30" font-size="16" textLength="5.35" lengthAdjust="spacingAndGlyphs">/</text>
<text x="345.50" y="690.30" font-size="16" textLength="36.33" lengthAdjust="spacingAndGlyphs">(L×d)</text>
<text x="394.57" y="690.30" font-size="16" textLength="17.38" lengthAdjust="spacingAndGlyphs">2.9</text>
<text x="414.89" y="690.30" font-size="16" textLength="41.16" lengthAdjust="spacingAndGlyphs">gCOD</text>
<text x="459.80" y="690.30" font-size="16" textLength="5.35" lengthAdjust="spacingAndGlyphs">/</text>
<text x="469.10" y="690.30" font-size="16" textLength="36.33" lengthAdjust="spacingAndGlyphs">(L×d)</text>
<path d="M81.6,703.0 L83.1,704.2 L83.1,704.2 L84.6,705.6 L84.7,705.7 L86.1,709.4 L86.6,711.0 L87.6,714.5 L89.1,720.2 L89.3,720.9 L90.6,725.4 L90.8,726.2 L92.1,730.4 L93.6,735.2 L93.9,736.1 L95.1,739.8 L96.6,744.2 L97.0,745.2 L98.1,748.4 L99.6,752.5 L100.1,753.7 L101.1,756.4 L102.6,760.1 L103.1,761.4 L104.1,763.7 L105.6,767.2 L106.2,768.6 L107.1,770.6 L108.6,773.8 L109.3,775.2 L110.1,776.9 L111.6,779.9 L112.4,781.4 L113.1,782.8 L114.6,785.6 L116.1,788.3 L117.6,790.9 L118.5,792.5 L119.1,793.5 L120.6,795.9 L122.1,798.2 L123.6,800.5 L124.7,802.1 L125.1,802.7 L126.6,804.9 L128.1,806.9 L129.6,808.9 L130.8,810.5 L131.1,810.9 L132.6,812.8 L134.1,814.6 L135.6,816.4 L137.0,817.9 L137.1,818.1 L138.6,819.7 L140.1,821.3 L141.6,822.9 L143.1,824.4 L143.1,824.5 L144.6,825.9 L146.1,827.4 L147.6,828.7 L149.1,830.1 L149.3,830.3 L150.6,831.4 L152.1,832.7 L153.6,834.0 L155.1,835.2 L155.5,835.4 L156.6,836.3 L158.1,837.5 L159.6,838.6 L161.1,839.7 L161.6,840.0 L162.6,840.8 L164.1,841.8 L165.6,842.8 L167.1,843.8 L167.8,844.2 L168.6,844.7 L170.1,845.7 L171.6,846.6 L173.1,847.4 L173.9,847.9 L174.6,848.3 L176.1,849.1 L177.6,849.9 L179.1,850.7 L180.1,851.2 L180.6,851.5 L182.1,852.3 L183.6,853.0 L185.1,853.7 L186.2,854.2 L186.6,854.4 L188.1,855.1 L189.6,855.8 L191.1,856.4 L192.4,857.0 L192.6,857.1 L194.1,857.7 L195.6,858.3 L197.1,858.9 L198.5,859.4 L198.6,859.5 L200.1,860.0 L201.6,860.6 L203.1,861.1 L204.6,861.6 L204.7,861.6 L206.1,862.1 L207.6,862.6 L209.1,863.1 L210.6,863.6 L210.8,863.6 L212.1,864.0 L213.6,864.5 L215.1,864.9 L216.6,865.4 L217.0,865.5 L218.2,865.8 L219.7,866.2 L221.2,866.6 L222.7,867.0 L223.1,867.1 L224.2,867.4 L225.7,867.7 L227.2,868.1 L228.7,868.5 L229.3,868.6 L230.2,868.8 L231.7,869.1 L233.2,869.5 L234.7,869.8 L235.5,870.0 L236.2,870.1 L237.7,870.4 L239.2,870.7 L240.7,871.0 L241.6,871.2 L242.2,871.3 L243.7,871.6 L245.2,871.9 L246.7,872.1 L247.8,872.3 L248.2,872.4 L249.7,872.6 L251.2,872.9 L252.7,873.1 L253.9,873.3 L254.2,873.4 L255.7,873.6 L257.2,873.8 L258.7,874.1 L260.1,874.3 L260.2,874.3 L261.7,874.5 L263.2,874.7 L264.7,874.9 L266.2,875.1 L266.2,875.1 L267.7,875.3 L269.2,875.6 L270.7,875.9 L272.2,876.2 L273.7,876.5 L275.2,876.8 L276.4,877.0 L276.7,877.1 L278.2,877.3 L279.7,877.6 L281.2,877.9 L282.7,878.1 L284.2,878.3 L284.7,878.3 L285.7,878.4 L287.2,878.5 L288.7,878.6 L290.2,878.7 L291.7,878.8 L293.2,878.8 L293.9,878.8 L294.7,878.8 L296.2,878.8 L297.7,878.7 L299.2,878.7 L300.7,878.6 L302.2,878.5 L303.7,878.4 L305.2,878.3 L306.7,878.2 L308.2,878.1 L309.7,878.0 L311.2,877.9 L312.7,877.9 L314.2,877.8 L314.5,877.8 L315.7,877.7 L317.2,877.6 L318.7,877.5 L320.2,877.4 L321.7,877.3 L323.2,877.2 L324.7,877.1 L326.2,877.0 L327.7,877.0 L329.2,876.9 L330.7,876.8 L332.2,876.7 L333.7,876.6 L335.2,876.6 L336.7,876.5 L338.2,876.5 L339.7,876.4 L339.8,876.4 L341.2,876.4 L342.7,876.4 L344.2,876.3 L345.7,876.3 L347.2,876.3 L348.7,876.3 L350.2,876.3 L351.7,876.3 L353.2,876.2 L354.7,876.2 L356.2,876.2 L357.7,876.2 L359.2,876.2 L360.7,876.2 L362.2,876.2 L363.7,876.2 L365.2,876.1 L366.7,876.1 L368.2,876.1 L369.7,876.1 L371.2,876.1 L372.7,876.0 L374.2,876.0 L375.7,876.0 L377.0,876.0 L377.2,876.0 L378.7,875.9 L380.2,875.9 L381.7,875.8 L383.2,875.7 L384.7,875.7 L386.2,875.6 L387.7,875.5 L389.2,875.5 L390.7,875.5 L390.9,875.5 L392.2,875.5 L393.7,875.5 L395.2,875.5 L396.7,875.5 L398.2,875.5 L399.7,875.5 L401.2,875.5 L402.7,875.5 L404.2,875.5 L405.7,875.5 L407.2,875.5 L408.7,875.5 L410.2,875.5 L411.7,875.5 L413.2,875.5 L414.7,875.5 L416.2,875.5 L417.7,875.5 L419.2,875.5 L420.7,875.5 L422.2,875.5 L423.7,875.5 L425.2,875.5 L426.7,875.5 L428.2,875.5 L429.0,875.5 L429.7,875.5 L431.2,875.5 L432.7,875.5 L434.2,875.6 L435.7,875.7 L437.2,875.8 L438.7,875.9 L440.2,876.0 L441.7,876.1 L443.2,876.2 L444.7,876.3 L446.2,876.4 L447.7,876.5 L449.2,876.6 L450.7,876.7 L450.9,876.7 L452.2,876.8 L453.7,876.9 L455.2,877.0 L456.7,877.0 L458.2,877.1 L459.7,877.2 L461.2,877.3 L462.7,877.4 L464.2,877.4 L465.7,877.5 L467.2,877.6 L468.7,877.7 L470.2,877.8" fill="none" stroke="#e8000b" stroke-width="2.25" stroke-linejoin="round" stroke-linecap="butt"/>
<path d="M81.6,701.6 L83.1,701.3 L83.1,701.3 L84.1,702.2 L84.6,700.6 L85.5,697.0 L86.1,697.7 L87.6,702.5 L87.8,703.0 L89.1,707.3 L90.6,712.3 L90.8,713.0 L92.1,717.0 L93.6,721.6 L93.9,722.5 L95.1,726.0 L96.6,730.3 L97.0,731.4 L98.1,734.5 L99.6,738.5 L100.1,739.7 L101.1,742.5 L102.6,746.3 L103.1,747.6 L104.1,750.0 L105.6,753.6 L106.2,755.0 L107.1,757.1 L108.6,760.5 L109.3,762.0 L110.1,763.8 L111.6,767.0 L112.4,768.6 L113.1,770.1 L114.6,773.1 L116.1,776.0 L117.6,778.8 L118.5,780.5 L119.1,781.6 L120.6,784.3 L122.1,786.9 L123.6,789.4 L124.7,791.1 L125.1,791.8 L126.6,794.2 L128.1,796.5 L129.6,798.8 L130.8,800.5 L131.1,800.9 L132.6,803.0 L134.1,805.1 L135.6,807.1 L137.0,808.8 L137.1,809.0 L138.6,810.9 L140.1,812.7 L141.6,814.5 L143.1,816.2 L143.1,816.2 L144.6,817.8 L146.1,819.5 L147.6,821.0 L149.1,822.5 L149.3,822.7 L150.6,824.0 L152.1,825.5 L153.6,826.9 L155.1,828.2 L155.5,828.5 L156.6,829.5 L158.1,830.8 L159.6,832.0 L161.1,833.2 L161.6,833.6 L162.6,834.4 L164.1,835.5 L165.6,836.6 L167.1,837.7 L167.8,838.1 L168.6,838.7 L170.1,839.7 L171.6,840.7 L173.1,841.6 L173.9,842.1 L174.6,842.6 L176.1,843.4 L177.6,844.3 L179.1,845.2 L180.1,845.7 L180.6,846.0 L182.1,846.8 L183.6,847.5 L185.1,848.3 L186.2,848.8 L186.6,849.0 L188.1,849.7 L189.6,850.4 L191.1,851.0 L192.4,851.6 L192.6,851.7 L194.1,852.3 L195.6,852.9 L197.1,853.5 L198.5,854.0 L198.6,854.1 L200.1,854.6 L201.6,855.2 L203.1,855.7 L204.6,856.2 L204.7,856.2 L206.1,856.7 L207.6,857.2 L209.1,857.6 L210.6,858.1 L210.8,858.1 L212.1,858.5 L213.6,858.9 L215.1,859.4 L216.6,859.8 L217.0,859.8 L218.2,860.1 L219.7,860.5 L221.2,860.9 L222.7,861.2 L223.1,861.4 L224.2,861.6 L225.7,861.9 L227.2,862.2 L228.7,862.6 L229.3,862.7 L230.2,862.9 L231.7,863.2 L233.2,863.5 L234.7,863.7 L235.5,863.9 L236.2,864.0 L237.7,864.3 L239.2,864.5 L240.7,864.8 L241.6,864.9 L242.2,865.0 L243.7,865.2 L245.2,865.5 L246.7,865.7 L247.8,865.9 L248.2,865.9 L249.7,866.1 L251.2,866.3 L252.7,866.5 L253.9,866.7 L254.2,866.7 L255.7,866.9 L257.2,867.1 L258.7,867.2 L260.1,867.4 L260.2,867.4 L261.7,867.6 L263.2,867.7 L264.7,867.9 L266.2,868.0 L266.2,868.0 L267.7,868.2 L269.2,868.4 L270.7,868.6 L272.2,868.8 L273.7,868.9 L275.2,869.1 L275.5,869.2 L276.7,869.3 L278.2,869.6 L279.7,869.8 L281.2,870.0 L282.7,870.1 L283.8,870.1 L284.2,870.1 L285.7,870.1 L287.2,870.1 L288.7,870.1 L290.2,870.0 L291.7,870.0 L293.2,869.9 L294.7,869.8 L296.2,869.7 L297.7,869.7 L299.2,869.6 L300.7,869.5 L301.6,869.5 L302.2,869.4 L303.7,869.3 L305.2,869.3 L306.7,869.1 L308.2,869.0 L309.7,868.9 L311.2,868.8 L312.7,868.7 L314.2,868.5 L315.7,868.4 L317.2,868.3 L318.7,868.1 L320.2,868.0 L321.7,867.9 L323.2,867.7 L324.7,867.6 L326.2,867.5 L327.7,867.4 L327.8,867.4 L329.2,867.3 L330.7,867.2 L332.2,867.1 L333.7,867.0 L335.2,866.9 L336.7,866.8 L338.2,866.8 L339.7,866.7 L339.8,866.6 L341.2,866.5 L342.7,866.4 L344.2,866.2 L345.7,866.1 L347.2,865.9 L348.7,865.8 L350.2,865.7 L351.7,865.6 L352.4,865.6 L353.2,865.6 L354.7,865.6 L356.2,865.6 L357.7,865.6 L359.2,865.6 L360.7,865.6 L362.2,865.6 L363.7,865.6 L365.2,865.6 L366.7,865.6 L368.2,865.6 L369.7,865.6 L371.2,865.6 L372.7,865.6 L374.2,865.6 L375.7,865.6 L377.0,865.6 L377.2,865.6 L378.7,865.5 L380.2,865.3 L381.7,865.1 L383.2,864.7 L384.7,864.4 L386.2,864.0 L387.7,863.6 L389.2,863.3 L390.7,863.1 L390.9,863.0 L392.2,862.8 L393.7,862.6 L395.2,862.4 L396.7,862.1 L398.2,861.9 L399.7,861.7 L401.2,861.5 L402.7,861.3 L404.2,861.1 L405.7,861.0 L407.2,860.9 L408.7,860.8 L410.2,860.7 L411.2,860.7 L411.7,860.7 L413.2,860.7 L414.7,860.7 L416.2,860.7 L417.7,860.7 L419.2,860.7 L420.7,860.7 L422.2,860.7 L423.7,860.7 L425.2,860.7 L426.7,860.7 L428.2,860.7 L429.0,860.7 L429.7,860.7 L431.2,860.8 L432.7,860.8 L434.2,860.9 L435.7,861.0 L437.2,861.1 L438.7,861.3 L440.2,861.4 L441.7,861.6 L443.2,861.7 L444.7,861.9 L446.2,862.1 L447.7,862.2 L449.2,862.4 L450.7,862.5 L450.9,862.5 L452.2,862.6 L453.7,862.8 L455.2,862.9 L456.7,863.0 L458.2,863.2 L459.7,863.3 L461.2,863.4 L462.7,863.6 L464.2,863.7 L465.7,863.8 L467.2,864.0 L468.7,864.1 L470.2,864.3" fill="none" stroke="#000000" stroke-width="2.25" stroke-linejoin="round" stroke-linecap="butt"/>
<rect x="396.4" y="719.6" width="111.0" height="58.69999999999993" fill="none" stroke="#000" stroke-width="1.3"/>
<line x1="405" y1="734" x2="434.5" y2="734" stroke="#e8000b" stroke-width="2.25"/>
<text x="437.15" y="738.90" font-size="15" textLength="22.34" lengthAdjust="spacingAndGlyphs">AD</text>
<line x1="405" y1="764" x2="434.5" y2="764" stroke="#000000" stroke-width="2.25"/>
<text x="436.83" y="768.90" font-size="15" textLength="61.15" lengthAdjust="spacingAndGlyphs">MEC-AD</text>
<text x="273.8" y="977.5" text-anchor="middle" font-size="14.5">(<tspan class="b">c</tspan>)</text>
</g>
</svg>
</body></html>
